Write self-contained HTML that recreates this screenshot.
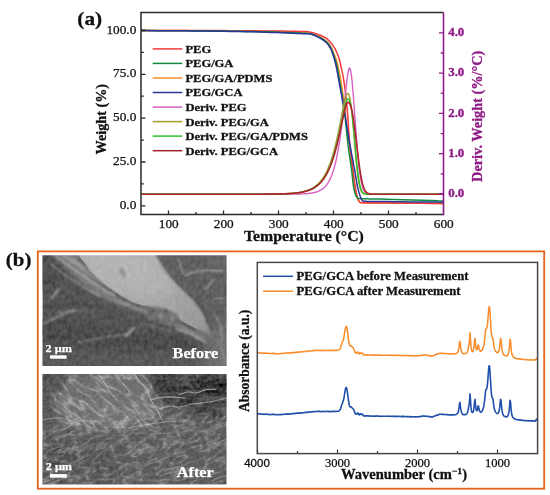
<!DOCTYPE html>
<html><head><meta charset="utf-8"><style>
html,body{margin:0;padding:0;background:#fff;overflow:hidden}
svg{display:block}
</style></head><body>
<svg width="550" height="495" viewBox="0 0 550 495">
<defs>
<clipPath id="clipA"><rect x="141.0" y="12.6" width="302.5" height="202.0"/></clipPath>
</defs>
<rect x="0" y="0" width="550" height="495" fill="#fff"/>
<g clip-path="url(#clipA)">
<path d="M141.0,30.5 L145.5,30.5 L151.6,30.5 L158.8,30.5 L166.8,30.6 L175.2,30.6 L183.8,30.6 L192.2,30.7 L200.0,30.7 L207.6,30.7 L215.4,30.8 L223.3,30.8 L231.2,30.9 L238.9,30.9 L246.4,31.0 L253.5,31.1 L260.0,31.2 L266.1,31.3 L272.1,31.5 L277.7,31.7 L283.0,31.9 L287.9,32.1 L292.4,32.2 L296.5,32.4 L300.0,32.6 L302.8,32.7 L305.0,32.8 L306.5,32.9 L307.7,32.9 L308.7,33.0 L309.6,33.2 L310.7,33.4 L312.0,33.8 L313.6,34.3 L315.2,34.9 L316.8,35.5 L318.5,36.3 L320.1,37.0 L321.6,37.8 L323.0,38.6 L324.2,39.4 L325.3,40.1 L326.2,40.8 L327.0,41.5 L327.7,42.2 L328.3,43.0 L329.0,43.8 L329.6,44.7 L330.3,45.8 L331.0,47.0 L331.7,48.4 L332.5,50.0 L333.2,51.5 L333.8,53.2 L334.5,54.8 L335.1,56.3 L335.6,57.7 L336.1,59.0 L336.5,60.2 L336.8,61.4 L337.1,62.5 L337.4,63.6 L337.7,64.8 L338.0,66.1 L338.3,67.4 L338.6,68.8 L338.9,70.2 L339.2,71.7 L339.5,73.2 L339.8,74.8 L340.1,76.5 L340.4,78.2 L340.7,80.0 L341.0,81.9 L341.3,83.9 L341.7,86.0 L342.0,88.2 L342.3,90.4 L342.7,92.6 L343.0,94.8 L343.3,97.0 L343.6,99.2 L343.9,101.4 L344.2,103.7 L344.4,106.0 L344.7,108.2 L345.0,110.5 L345.2,112.8 L345.5,115.0 L345.8,117.2 L346.0,119.4 L346.2,121.6 L346.5,123.8 L346.7,126.0 L347.0,128.1 L347.2,130.3 L347.5,132.5 L347.8,134.7 L348.1,136.8 L348.4,139.0 L348.8,141.1 L349.1,143.3 L349.4,145.4 L349.8,147.7 L350.1,150.0 L350.4,152.4 L350.7,154.9 L351.1,157.5 L351.4,160.2 L351.7,162.8 L352.0,165.3 L352.3,167.7 L352.6,170.0 L352.9,172.1 L353.2,174.2 L353.4,176.2 L353.7,178.1 L353.9,180.0 L354.2,181.7 L354.4,183.4 L354.7,185.0 L354.9,186.5 L355.2,187.9 L355.4,189.3 L355.6,190.5 L355.9,191.7 L356.1,192.9 L356.3,194.0 L356.6,195.0 L356.9,196.0 L357.1,197.0 L357.4,197.9 L357.7,198.7 L358.0,199.5 L358.3,200.2 L358.6,200.8 L359.0,201.3 L359.3,201.7 L359.6,202.0 L359.8,202.2 L360.1,202.3 L360.5,202.4 L361.0,202.5 L361.9,202.5 L363.0,202.6 L364.2,202.7 L365.3,202.7 L366.4,202.8 L367.8,202.8 L369.7,202.8 L372.2,202.8 L375.6,202.9 L380.0,202.9 L386.1,203.0 L394.0,203.0 L403.0,203.1 L412.6,203.2 L422.0,203.2 L430.6,203.3 L437.8,203.4 L443.0,203.4" fill="none" stroke="#fb8f2e" stroke-width="1.5" stroke-linejoin="round" stroke-linecap="round"/>
<path d="M141.0,30.4 L145.5,30.4 L151.6,30.4 L158.8,30.4 L166.8,30.4 L175.2,30.4 L183.8,30.5 L192.2,30.5 L200.0,30.5 L207.6,30.5 L215.4,30.6 L223.3,30.6 L231.2,30.7 L238.9,30.7 L246.4,30.8 L253.5,30.8 L260.0,30.9 L266.1,31.0 L272.1,31.0 L277.7,31.1 L283.0,31.1 L287.9,31.2 L292.4,31.2 L296.5,31.3 L300.0,31.4 L302.8,31.5 L305.0,31.6 L306.6,31.6 L307.8,31.7 L308.8,31.8 L309.7,32.0 L310.8,32.2 L312.1,32.5 L313.7,32.9 L315.3,33.4 L316.9,34.0 L318.5,34.6 L320.1,35.2 L321.6,35.8 L323.0,36.5 L324.2,37.1 L325.3,37.7 L326.2,38.2 L327.0,38.8 L327.7,39.4 L328.4,40.0 L329.0,40.6 L329.6,41.3 L330.3,42.0 L331.0,42.8 L331.6,43.6 L332.3,44.5 L332.9,45.4 L333.5,46.3 L334.1,47.3 L334.7,48.2 L335.2,49.2 L335.7,50.2 L336.2,51.2 L336.7,52.2 L337.2,53.3 L337.6,54.4 L338.0,55.5 L338.4,56.6 L338.8,57.7 L339.2,58.8 L339.5,60.0 L339.8,61.1 L340.1,62.3 L340.3,63.5 L340.6,64.7 L340.9,66.0 L341.2,67.4 L341.5,68.8 L341.8,70.2 L342.1,71.7 L342.5,73.2 L342.8,74.8 L343.1,76.5 L343.4,78.2 L343.7,80.0 L344.0,81.9 L344.3,83.9 L344.6,86.0 L344.9,88.2 L345.2,90.4 L345.5,92.6 L345.7,94.8 L346.0,97.0 L346.2,99.2 L346.5,101.4 L346.7,103.7 L346.9,106.0 L347.1,108.2 L347.3,110.5 L347.5,112.8 L347.7,115.0 L347.9,117.2 L348.0,119.4 L348.1,121.6 L348.3,123.8 L348.4,126.0 L348.5,128.1 L348.6,130.3 L348.8,132.5 L349.0,134.7 L349.1,136.8 L349.3,139.0 L349.5,141.1 L349.7,143.3 L349.9,145.4 L350.2,147.7 L350.4,150.0 L350.7,152.4 L351.0,154.9 L351.3,157.5 L351.6,160.2 L352.0,162.8 L352.3,165.3 L352.6,167.7 L352.9,170.0 L353.2,172.1 L353.5,174.2 L353.7,176.2 L354.0,178.1 L354.2,179.9 L354.5,181.6 L354.7,183.4 L355.0,185.0 L355.3,186.6 L355.5,188.2 L355.7,189.7 L356.0,191.1 L356.2,192.4 L356.5,193.7 L356.7,194.9 L357.0,196.0 L357.3,197.0 L357.6,197.9 L357.9,198.7 L358.2,199.4 L358.5,200.1 L358.8,200.6 L359.1,201.1 L359.5,201.6 L359.8,202.0 L360.0,202.2 L360.1,202.4 L360.3,202.5 L360.7,202.6 L361.2,202.7 L361.9,202.7 L363.0,202.8 L364.2,202.9 L365.2,202.9 L366.4,202.9 L367.8,202.9 L369.7,202.9 L372.2,203.0 L375.6,203.0 L380.0,203.0 L386.1,203.1 L394.0,203.1 L403.0,203.2 L412.6,203.3 L422.0,203.3 L430.6,203.4 L437.8,203.5 L443.0,203.5" fill="none" stroke="#f23a3a" stroke-width="1.5" stroke-linejoin="round" stroke-linecap="round"/>
<path d="M141.0,30.6 L145.5,30.6 L151.6,30.6 L158.8,30.7 L166.8,30.7 L175.2,30.7 L183.8,30.8 L192.2,30.8 L200.0,30.9 L207.6,31.0 L215.4,31.1 L223.3,31.1 L231.2,31.2 L238.9,31.3 L246.4,31.4 L253.5,31.6 L260.0,31.7 L266.1,31.8 L272.1,32.0 L277.7,32.2 L283.0,32.4 L287.9,32.6 L292.4,32.8 L296.5,32.9 L300.0,33.1 L302.8,33.2 L305.0,33.3 L306.5,33.3 L307.7,33.4 L308.7,33.4 L309.6,33.6 L310.7,33.8 L312.0,34.2 L313.6,34.7 L315.2,35.3 L316.8,36.1 L318.5,36.8 L320.1,37.7 L321.6,38.5 L323.0,39.4 L324.2,40.2 L325.3,41.0 L326.2,41.8 L327.0,42.5 L327.7,43.3 L328.4,44.1 L329.0,45.0 L329.7,46.0 L330.3,47.0 L330.9,48.2 L331.5,49.4 L332.1,50.8 L332.7,52.2 L333.2,53.6 L333.7,55.0 L334.2,56.4 L334.6,57.7 L335.0,58.9 L335.4,60.1 L335.7,61.3 L336.0,62.4 L336.3,63.6 L336.6,64.8 L336.9,66.1 L337.2,67.4 L337.5,68.8 L337.8,70.2 L338.1,71.7 L338.3,73.2 L338.6,74.8 L338.9,76.5 L339.2,78.2 L339.5,80.0 L339.8,81.9 L340.2,83.9 L340.5,86.0 L340.9,88.2 L341.2,90.4 L341.6,92.6 L342.0,94.8 L342.3,97.0 L342.6,99.2 L343.0,101.4 L343.3,103.7 L343.7,106.0 L344.0,108.2 L344.3,110.5 L344.6,112.8 L344.9,115.0 L345.2,117.2 L345.4,119.4 L345.6,121.6 L345.8,123.8 L346.0,126.0 L346.3,128.1 L346.5,130.3 L346.7,132.5 L346.9,134.7 L347.2,136.8 L347.4,139.0 L347.6,141.1 L347.9,143.3 L348.1,145.4 L348.4,147.7 L348.7,150.0 L349.0,152.4 L349.4,154.9 L349.8,157.5 L350.2,160.2 L350.6,162.8 L350.9,165.3 L351.3,167.7 L351.6,170.0 L351.9,172.2 L352.1,174.2 L352.3,176.3 L352.5,178.2 L352.7,180.0 L352.9,181.8 L353.1,183.4 L353.3,185.0 L353.5,186.4 L353.8,187.8 L354.0,189.0 L354.3,190.2 L354.5,191.2 L354.8,192.2 L355.0,193.2 L355.3,194.0 L355.6,194.8 L355.8,195.5 L356.1,196.1 L356.4,196.6 L356.6,197.0 L357.0,197.4 L357.3,197.8 L357.7,198.1 L358.1,198.3 L358.3,198.5 L358.6,198.6 L358.9,198.6 L359.3,198.6 L359.9,198.6 L360.8,198.7 L362.0,198.7 L363.3,198.8 L364.5,198.8 L365.8,198.8 L367.3,198.8 L369.4,198.9 L372.0,198.9 L375.5,199.0 L380.0,199.1 L386.2,199.3 L394.1,199.5 L403.1,199.8 L412.6,200.0 L422.0,200.3 L430.6,200.5 L437.8,200.8 L443.0,200.9" fill="none" stroke="#0f8c3e" stroke-width="1.5" stroke-linejoin="round" stroke-linecap="round"/>
<path d="M141.0,30.6 L145.5,30.6 L151.6,30.7 L158.8,30.7 L166.8,30.7 L175.2,30.8 L183.8,30.8 L192.2,30.9 L200.0,31.0 L207.6,31.1 L215.4,31.2 L223.3,31.3 L231.2,31.4 L238.9,31.6 L246.4,31.7 L253.5,31.8 L260.0,32.0 L266.1,32.2 L272.1,32.4 L277.7,32.6 L283.0,32.8 L287.9,33.0 L292.4,33.2 L296.5,33.4 L300.0,33.6 L302.8,33.7 L305.0,33.7 L306.6,33.8 L307.8,33.8 L308.8,33.8 L309.7,33.9 L310.8,34.1 L312.1,34.5 L313.7,35.0 L315.3,35.7 L316.9,36.4 L318.5,37.3 L320.1,38.1 L321.6,39.0 L323.0,39.9 L324.2,40.8 L325.3,41.6 L326.2,42.5 L327.0,43.3 L327.8,44.2 L328.5,45.1 L329.1,46.0 L329.7,47.0 L330.3,48.0 L330.9,49.1 L331.4,50.2 L331.9,51.5 L332.3,52.7 L332.7,54.0 L333.1,55.2 L333.5,56.5 L333.9,57.7 L334.3,58.9 L334.6,60.1 L334.9,61.2 L335.2,62.4 L335.5,63.6 L335.8,64.8 L336.1,66.0 L336.4,67.4 L336.7,68.8 L337.0,70.2 L337.2,71.7 L337.5,73.2 L337.8,74.8 L338.1,76.5 L338.4,78.2 L338.7,80.0 L339.1,81.9 L339.4,83.9 L339.8,86.0 L340.2,88.2 L340.7,90.4 L341.1,92.6 L341.5,94.8 L341.9,97.0 L342.3,99.2 L342.7,101.4 L343.1,103.7 L343.5,106.0 L343.9,108.2 L344.2,110.5 L344.6,112.8 L345.0,115.0 L345.4,117.2 L345.7,119.4 L346.1,121.6 L346.4,123.8 L346.7,126.0 L347.1,128.1 L347.4,130.3 L347.8,132.5 L348.2,134.7 L348.5,136.8 L348.9,139.0 L349.3,141.1 L349.7,143.3 L350.1,145.4 L350.5,147.7 L350.9,150.0 L351.3,152.4 L351.8,154.9 L352.3,157.5 L352.8,160.2 L353.3,162.8 L353.7,165.3 L354.2,167.7 L354.6,170.0 L355.0,172.1 L355.3,174.2 L355.7,176.2 L356.0,178.1 L356.3,180.0 L356.6,181.7 L356.9,183.4 L357.2,185.0 L357.5,186.5 L357.9,188.0 L358.2,189.3 L358.5,190.6 L358.8,191.8 L359.2,192.9 L359.5,194.0 L359.8,195.0 L360.1,195.9 L360.4,196.8 L360.7,197.5 L361.0,198.2 L361.3,198.8 L361.6,199.4 L361.9,199.9 L362.3,200.3 L362.6,200.6 L362.9,200.9 L363.1,201.0 L363.4,201.1 L363.8,201.2 L364.3,201.2 L365.0,201.2 L366.0,201.3 L366.9,201.4 L367.6,201.4 L368.3,201.4 L369.3,201.4 L370.7,201.4 L372.8,201.4 L375.8,201.5 L380.0,201.5 L386.0,201.6 L393.8,201.7 L402.8,201.8 L412.4,201.9 L421.8,202.0 L430.5,202.1 L437.8,202.1 L443.0,202.2" fill="none" stroke="#28379a" stroke-width="1.5" stroke-linejoin="round" stroke-linecap="round"/>
<path d="M141.0,194.2 L145.0,194.2 L149.0,194.2 L153.0,194.2 L157.0,194.2 L161.0,194.2 L165.0,194.2 L169.0,194.2 L173.0,194.2 L177.0,194.2 L181.0,194.2 L185.0,194.2 L189.0,194.2 L193.0,194.2 L197.0,194.2 L201.0,194.2 L205.0,194.2 L209.0,194.2 L213.0,194.2 L217.0,194.2 L221.0,194.2 L225.0,194.2 L229.0,194.2 L233.0,194.2 L237.0,194.2 L241.0,194.2 L245.0,194.2 L249.0,194.2 L253.0,194.2 L257.0,194.2 L261.0,194.2 L265.0,194.2 L269.0,194.2 L273.0,194.2 L277.0,194.2 L281.0,194.2 L285.0,194.2 L289.0,194.2 L290.0,194.2 L290.5,194.1 L291.0,194.1 L291.5,194.1 L292.0,194.1 L292.5,194.1 L293.0,194.1 L293.5,194.1 L294.0,194.1 L294.5,194.1 L295.0,194.1 L295.5,194.1 L296.0,194.1 L296.5,194.1 L297.0,194.1 L297.5,194.1 L298.0,194.0 L298.5,194.0 L299.0,194.0 L299.5,194.0 L300.0,194.0 L300.5,194.0 L301.0,194.0 L301.5,193.9 L302.0,193.9 L302.5,193.9 L303.0,193.9 L303.5,193.9 L304.0,193.8 L304.5,193.8 L305.0,193.8 L305.5,193.7 L306.0,193.7 L306.5,193.7 L307.0,193.6 L307.5,193.6 L308.0,193.5 L308.5,193.5 L309.0,193.4 L309.5,193.4 L310.0,193.3 L310.5,193.2 L311.0,193.2 L311.5,193.1 L312.0,193.0 L312.5,192.9 L313.0,192.8 L313.5,192.7 L314.0,192.6 L314.5,192.5 L315.0,192.4 L315.5,192.2 L316.0,192.1 L316.5,191.9 L317.0,191.8 L317.5,191.6 L318.0,191.4 L318.5,191.2 L319.0,191.0 L319.5,190.7 L320.0,190.5 L320.5,190.2 L321.0,189.9 L321.5,189.6 L322.0,189.3 L322.5,188.9 L323.0,188.5 L323.5,188.1 L324.0,187.7 L324.5,187.2 L325.0,186.7 L325.5,186.2 L326.0,185.6 L326.5,185.0 L327.0,184.3 L327.5,183.6 L328.0,182.8 L328.5,182.0 L329.0,181.1 L329.5,180.2 L330.0,179.2 L330.5,178.1 L331.0,177.0 L331.5,175.8 L332.0,174.5 L332.5,173.1 L333.0,171.7 L333.5,170.1 L334.0,168.4 L334.5,166.7 L335.0,164.8 L335.5,162.8 L336.0,160.6 L336.5,158.4 L337.0,156.0 L337.5,153.5 L338.0,150.8 L338.5,147.9 L339.0,145.0 L339.5,141.8 L340.0,138.5 L340.5,135.0 L341.0,131.4 L341.5,127.6 L342.0,123.7 L342.5,119.6 L343.0,115.3 L343.5,111.0 L344.0,106.5 L344.5,102.0 L345.0,97.4 L345.5,92.8 L346.0,88.4 L346.5,84.0 L347.0,79.9 L347.5,76.2 L348.0,72.9 L348.5,70.3 L349.0,68.5 L349.5,67.9 L350.0,68.4 L350.5,70.0 L351.0,72.6 L351.5,76.1 L352.0,80.5 L352.5,85.7 L353.0,91.5 L353.5,97.8 L354.0,104.4 L354.5,111.4 L355.0,118.4 L355.5,125.4 L356.0,132.3 L356.5,138.9 L357.0,145.3 L357.5,151.3 L358.0,156.9 L358.5,162.0 L359.0,166.6 L359.5,170.8 L360.0,174.5 L360.5,177.8 L361.0,180.6 L361.5,183.1 L362.0,185.1 L362.5,186.9 L363.0,188.4 L363.5,189.6 L364.0,190.6 L364.5,191.4 L365.0,192.0 L365.5,192.5 L366.0,192.9 L366.5,193.2 L367.0,193.5 L367.5,193.7 L368.0,193.8 L368.5,193.9 L369.0,194.0 L369.5,194.1 L370.0,194.1 L370.5,194.1 L371.0,194.1 L371.5,194.2 L372.0,194.2 L372.5,194.2 L373.0,194.2 L373.5,194.2 L374.0,194.2 L374.5,194.2 L375.0,194.2 L375.5,194.2 L376.0,194.2 L376.5,194.2 L377.0,194.2 L377.5,194.2 L378.0,194.2 L378.5,194.2 L379.0,194.2 L379.5,194.2 L380.0,194.2 L384.0,194.2 L388.0,194.2 L392.0,194.2 L396.0,194.2 L400.0,194.2 L404.0,194.2 L408.0,194.2 L412.0,194.2 L416.0,194.2 L420.0,194.2 L424.0,194.2 L428.0,194.2 L432.0,194.2 L436.0,194.2 L440.0,194.2 L443.5,194.2" fill="none" stroke="#d860c4" stroke-width="1.4" stroke-linejoin="round" stroke-linecap="round"/>
<path d="M141.0,194.2 L145.0,194.2 L149.0,194.2 L153.0,194.2 L157.0,194.2 L161.0,194.2 L165.0,194.2 L169.0,194.2 L173.0,194.2 L177.0,194.2 L181.0,194.2 L185.0,194.2 L189.0,194.2 L193.0,194.2 L197.0,194.2 L201.0,194.2 L205.0,194.2 L209.0,194.2 L213.0,194.2 L217.0,194.2 L221.0,194.2 L225.0,194.2 L229.0,194.2 L233.0,194.2 L237.0,194.2 L241.0,194.2 L245.0,194.2 L249.0,194.2 L253.0,194.2 L257.0,194.2 L261.0,194.2 L265.0,194.1 L269.0,194.1 L273.0,194.1 L277.0,194.0 L281.0,193.9 L285.0,193.7 L289.0,193.5 L290.0,193.5 L290.5,193.4 L291.0,193.4 L291.5,193.4 L292.0,193.3 L292.5,193.3 L293.0,193.2 L293.5,193.2 L294.0,193.1 L294.5,193.1 L295.0,193.0 L295.5,193.0 L296.0,192.9 L296.5,192.8 L297.0,192.8 L297.5,192.7 L298.0,192.6 L298.5,192.6 L299.0,192.5 L299.5,192.4 L300.0,192.3 L300.5,192.2 L301.0,192.1 L301.5,192.0 L302.0,191.9 L302.5,191.8 L303.0,191.7 L303.5,191.6 L304.0,191.4 L304.5,191.3 L305.0,191.2 L305.5,191.0 L306.0,190.9 L306.5,190.7 L307.0,190.5 L307.5,190.3 L308.0,190.2 L308.5,190.0 L309.0,189.8 L309.5,189.5 L310.0,189.3 L310.5,189.1 L311.0,188.8 L311.5,188.6 L312.0,188.3 L312.5,188.0 L313.0,187.7 L313.5,187.4 L314.0,187.1 L314.5,186.8 L315.0,186.4 L315.5,186.0 L316.0,185.7 L316.5,185.2 L317.0,184.8 L317.5,184.4 L318.0,183.9 L318.5,183.4 L319.0,182.9 L319.5,182.4 L320.0,181.8 L320.5,181.2 L321.0,180.6 L321.5,180.0 L322.0,179.3 L322.5,178.6 L323.0,177.9 L323.5,177.1 L324.0,176.3 L324.5,175.5 L325.0,174.6 L325.5,173.7 L326.0,172.8 L326.5,171.8 L327.0,170.7 L327.5,169.7 L328.0,168.5 L328.5,167.4 L329.0,166.1 L329.5,164.9 L330.0,163.6 L330.5,162.2 L331.0,160.7 L331.5,159.2 L332.0,157.7 L332.5,156.1 L333.0,154.4 L333.5,152.7 L334.0,150.9 L334.5,149.0 L335.0,147.0 L335.5,145.0 L336.0,143.0 L336.5,140.8 L337.0,138.6 L337.5,136.4 L338.0,134.0 L338.5,131.6 L339.0,129.2 L339.5,126.7 L340.0,124.2 L340.5,121.6 L341.0,119.0 L341.5,116.3 L342.0,113.7 L342.5,111.1 L343.0,108.5 L343.5,106.0 L344.0,103.6 L344.5,101.3 L345.0,99.2 L345.5,97.3 L346.0,95.7 L346.5,94.5 L347.0,93.7 L347.5,93.5 L348.0,93.6 L348.5,94.1 L349.0,95.1 L349.5,96.6 L350.0,98.7 L350.5,101.5 L351.0,104.9 L351.5,108.9 L352.0,113.5 L352.5,118.6 L353.0,124.1 L353.5,130.0 L354.0,135.9 L354.5,142.0 L355.0,148.0 L355.5,153.8 L356.0,159.3 L356.5,164.5 L357.0,169.3 L357.5,173.6 L358.0,177.4 L358.5,180.7 L359.0,183.5 L359.5,185.9 L360.0,187.8 L360.5,189.4 L361.0,190.6 L361.5,191.6 L362.0,192.3 L362.5,192.9 L363.0,193.3 L363.5,193.6 L364.0,193.8 L364.5,193.9 L365.0,194.0 L365.5,194.1 L366.0,194.1 L366.5,194.2 L367.0,194.2 L367.5,194.2 L368.0,194.2 L368.5,194.2 L369.0,194.2 L369.5,194.2 L370.0,194.2 L370.5,194.2 L371.0,194.2 L371.5,194.2 L372.0,194.2 L372.5,194.2 L373.0,194.2 L373.5,194.2 L374.0,194.2 L374.5,194.2 L375.0,194.2 L375.5,194.2 L376.0,194.2 L376.5,194.2 L377.0,194.2 L377.5,194.2 L378.0,194.2 L378.5,194.2 L379.0,194.2 L379.5,194.2 L380.0,194.2 L384.0,194.2 L388.0,194.2 L392.0,194.2 L396.0,194.2 L400.0,194.2 L404.0,194.2 L408.0,194.2 L412.0,194.2 L416.0,194.2 L420.0,194.2 L424.0,194.2 L428.0,194.2 L432.0,194.2 L436.0,194.2 L440.0,194.2 L443.5,194.2" fill="none" stroke="#a29d2e" stroke-width="1.4" stroke-linejoin="round" stroke-linecap="round"/>
<path d="M141.0,194.2 L145.0,194.2 L149.0,194.2 L153.0,194.2 L157.0,194.2 L161.0,194.2 L165.0,194.2 L169.0,194.2 L173.0,194.2 L177.0,194.2 L181.0,194.2 L185.0,194.2 L189.0,194.2 L193.0,194.2 L197.0,194.2 L201.0,194.2 L205.0,194.2 L209.0,194.2 L213.0,194.2 L217.0,194.2 L221.0,194.2 L225.0,194.2 L229.0,194.2 L233.0,194.2 L237.0,194.2 L241.0,194.2 L245.0,194.2 L249.0,194.2 L253.0,194.2 L257.0,194.2 L261.0,194.2 L265.0,194.1 L269.0,194.1 L273.0,194.1 L277.0,194.0 L281.0,193.9 L285.0,193.8 L289.0,193.6 L290.0,193.5 L290.5,193.5 L291.0,193.5 L291.5,193.4 L292.0,193.4 L292.5,193.4 L293.0,193.3 L293.5,193.3 L294.0,193.2 L294.5,193.2 L295.0,193.1 L295.5,193.1 L296.0,193.0 L296.5,193.0 L297.0,192.9 L297.5,192.8 L298.0,192.8 L298.5,192.7 L299.0,192.6 L299.5,192.6 L300.0,192.5 L300.5,192.4 L301.0,192.3 L301.5,192.2 L302.0,192.1 L302.5,192.0 L303.0,191.9 L303.5,191.8 L304.0,191.7 L304.5,191.6 L305.0,191.4 L305.5,191.3 L306.0,191.2 L306.5,191.0 L307.0,190.9 L307.5,190.7 L308.0,190.5 L308.5,190.3 L309.0,190.2 L309.5,190.0 L310.0,189.8 L310.5,189.5 L311.0,189.3 L311.5,189.1 L312.0,188.8 L312.5,188.6 L313.0,188.3 L313.5,188.0 L314.0,187.7 L314.5,187.4 L315.0,187.1 L315.5,186.8 L316.0,186.4 L316.5,186.0 L317.0,185.6 L317.5,185.2 L318.0,184.8 L318.5,184.4 L319.0,183.9 L319.5,183.4 L320.0,182.9 L320.5,182.4 L321.0,181.8 L321.5,181.2 L322.0,180.6 L322.5,180.0 L323.0,179.3 L323.5,178.6 L324.0,177.9 L324.5,177.1 L325.0,176.3 L325.5,175.5 L326.0,174.6 L326.5,173.7 L327.0,172.8 L327.5,171.8 L328.0,170.8 L328.5,169.7 L329.0,168.6 L329.5,167.4 L330.0,166.2 L330.5,164.9 L331.0,163.6 L331.5,162.3 L332.0,160.8 L332.5,159.3 L333.0,157.8 L333.5,156.2 L334.0,154.5 L334.5,152.8 L335.0,151.0 L335.5,149.2 L336.0,147.3 L336.5,145.3 L337.0,143.3 L337.5,141.2 L338.0,139.0 L338.5,136.8 L339.0,134.5 L339.5,132.2 L340.0,129.8 L340.5,127.4 L341.0,125.0 L341.5,122.5 L342.0,120.0 L342.5,117.5 L343.0,115.1 L343.5,112.7 L344.0,110.3 L344.5,108.0 L345.0,105.9 L345.5,103.9 L346.0,102.2 L346.5,100.7 L347.0,99.6 L347.5,99.0 L348.0,98.9 L348.5,99.1 L349.0,99.6 L349.5,100.5 L350.0,102.0 L350.5,104.0 L351.0,106.6 L351.5,109.8 L352.0,113.5 L352.5,117.8 L353.0,122.5 L353.5,127.6 L354.0,132.9 L354.5,138.4 L355.0,144.0 L355.5,149.6 L356.0,155.0 L356.5,160.2 L357.0,165.0 L357.5,169.5 L358.0,173.6 L358.5,177.2 L359.0,180.4 L359.5,183.2 L360.0,185.5 L360.5,187.5 L361.0,189.1 L361.5,190.3 L362.0,191.3 L362.5,192.1 L363.0,192.7 L363.5,193.1 L364.0,193.5 L364.5,193.7 L365.0,193.9 L365.5,194.0 L366.0,194.1 L366.5,194.1 L367.0,194.1 L367.5,194.2 L368.0,194.2 L368.5,194.2 L369.0,194.2 L369.5,194.2 L370.0,194.2 L370.5,194.2 L371.0,194.2 L371.5,194.2 L372.0,194.2 L372.5,194.2 L373.0,194.2 L373.5,194.2 L374.0,194.2 L374.5,194.2 L375.0,194.2 L375.5,194.2 L376.0,194.2 L376.5,194.2 L377.0,194.2 L377.5,194.2 L378.0,194.2 L378.5,194.2 L379.0,194.2 L379.5,194.2 L380.0,194.2 L384.0,194.2 L388.0,194.2 L392.0,194.2 L396.0,194.2 L400.0,194.2 L404.0,194.2 L408.0,194.2 L412.0,194.2 L416.0,194.2 L420.0,194.2 L424.0,194.2 L428.0,194.2 L432.0,194.2 L436.0,194.2 L440.0,194.2 L443.5,194.2" fill="none" stroke="#2cc12c" stroke-width="1.4" stroke-linejoin="round" stroke-linecap="round"/>
<path d="M141.0,194.2 L145.0,194.2 L149.0,194.2 L153.0,194.2 L157.0,194.2 L161.0,194.2 L165.0,194.2 L169.0,194.2 L173.0,194.2 L177.0,194.2 L181.0,194.2 L185.0,194.2 L189.0,194.2 L193.0,194.2 L197.0,194.2 L201.0,194.2 L205.0,194.2 L209.0,194.2 L213.0,194.2 L217.0,194.2 L221.0,194.2 L225.0,194.2 L229.0,194.2 L233.0,194.2 L237.0,194.2 L241.0,194.2 L245.0,194.2 L249.0,194.2 L253.0,194.2 L257.0,194.2 L261.0,194.2 L265.0,194.1 L269.0,194.1 L273.0,194.1 L277.0,194.0 L281.0,193.9 L285.0,193.8 L289.0,193.6 L290.0,193.6 L290.5,193.5 L291.0,193.5 L291.5,193.5 L292.0,193.4 L292.5,193.4 L293.0,193.3 L293.5,193.3 L294.0,193.2 L294.5,193.2 L295.0,193.2 L295.5,193.1 L296.0,193.1 L296.5,193.0 L297.0,192.9 L297.5,192.9 L298.0,192.8 L298.5,192.7 L299.0,192.7 L299.5,192.6 L300.0,192.5 L300.5,192.4 L301.0,192.4 L301.5,192.3 L302.0,192.2 L302.5,192.1 L303.0,192.0 L303.5,191.9 L304.0,191.7 L304.5,191.6 L305.0,191.5 L305.5,191.4 L306.0,191.2 L306.5,191.1 L307.0,190.9 L307.5,190.8 L308.0,190.6 L308.5,190.4 L309.0,190.3 L309.5,190.1 L310.0,189.9 L310.5,189.7 L311.0,189.5 L311.5,189.2 L312.0,189.0 L312.5,188.7 L313.0,188.5 L313.5,188.2 L314.0,187.9 L314.5,187.6 L315.0,187.3 L315.5,187.0 L316.0,186.6 L316.5,186.3 L317.0,185.9 L317.5,185.5 L318.0,185.1 L318.5,184.6 L319.0,184.2 L319.5,183.7 L320.0,183.2 L320.5,182.7 L321.0,182.2 L321.5,181.6 L322.0,181.0 L322.5,180.4 L323.0,179.7 L323.5,179.1 L324.0,178.3 L324.5,177.6 L325.0,176.8 L325.5,176.0 L326.0,175.2 L326.5,174.3 L327.0,173.4 L327.5,172.4 L328.0,171.4 L328.5,170.4 L329.0,169.3 L329.5,168.2 L330.0,167.0 L330.5,165.8 L331.0,164.5 L331.5,163.2 L332.0,161.8 L332.5,160.3 L333.0,158.8 L333.5,157.3 L334.0,155.7 L334.5,154.0 L335.0,152.3 L335.5,150.5 L336.0,148.6 L336.5,146.7 L337.0,144.8 L337.5,142.7 L338.0,140.6 L338.5,138.5 L339.0,136.3 L339.5,134.0 L340.0,131.7 L340.5,129.4 L341.0,127.1 L341.5,124.7 L342.0,122.3 L342.5,119.9 L343.0,117.5 L343.5,115.2 L344.0,112.9 L344.5,110.8 L345.0,108.7 L345.5,106.9 L346.0,105.2 L346.5,103.9 L347.0,103.0 L347.5,102.4 L348.0,102.4 L348.5,102.5 L349.0,102.8 L349.5,103.4 L350.0,104.3 L350.5,105.4 L351.0,106.9 L351.5,108.8 L352.0,110.9 L352.5,113.5 L353.0,116.4 L353.5,119.5 L354.0,123.0 L354.5,126.7 L355.0,130.6 L355.5,134.7 L356.0,138.9 L356.5,143.1 L357.0,147.3 L357.5,151.5 L358.0,155.7 L358.5,159.7 L359.0,163.5 L359.5,167.1 L360.0,170.5 L360.5,173.6 L361.0,176.5 L361.5,179.1 L362.0,181.4 L362.5,183.5 L363.0,185.3 L363.5,186.9 L364.0,188.2 L364.5,189.4 L365.0,190.4 L365.5,191.2 L366.0,191.8 L366.5,192.4 L367.0,192.8 L367.5,193.1 L368.0,193.4 L368.5,193.6 L369.0,193.8 L369.5,193.9 L370.0,194.0 L370.5,194.0 L371.0,194.1 L371.5,194.1 L372.0,194.1 L372.5,194.2 L373.0,194.2 L373.5,194.2 L374.0,194.2 L374.5,194.2 L375.0,194.2 L375.5,194.2 L376.0,194.2 L376.5,194.2 L377.0,194.2 L377.5,194.2 L378.0,194.2 L378.5,194.2 L379.0,194.2 L379.5,194.2 L380.0,194.2 L384.0,194.2 L388.0,194.2 L392.0,194.2 L396.0,194.2 L400.0,194.2 L404.0,194.2 L408.0,194.2 L412.0,194.2 L416.0,194.2 L420.0,194.2 L424.0,194.2 L428.0,194.2 L432.0,194.2 L436.0,194.2 L440.0,194.2 L443.5,194.2" fill="none" stroke="#b0222e" stroke-width="1.6" stroke-linejoin="round" stroke-linecap="round"/>
</g>
<path d="M443.5,12.6 L141.0,12.6 L141.0,214.6 L443.5,214.6" fill="none" stroke="#2a2a2a" stroke-width="1.5"/>
<line x1="443.5" y1="12.6" x2="443.5" y2="215.29999999999998" stroke="#8e1a86" stroke-width="1.6"/>
<path d="M141.0,205.8 h4.5 M141.0,183.9 h2.8 M141.0,162.0 h4.5 M141.0,140.1 h2.8 M141.0,118.2 h4.5 M141.0,96.2 h2.8 M141.0,74.3 h4.5 M141.0,52.4 h2.8 M141.0,30.5 h4.5" stroke="#2a2a2a" stroke-width="1.3"/>
<path d="M168.5,214.6 v-4.2 M196.0,214.6 v-2.6 M223.5,214.6 v-4.2 M251.0,214.6 v-2.6 M278.5,214.6 v-4.2 M306.0,214.6 v-2.6 M333.5,214.6 v-4.2 M361.0,214.6 v-2.6 M388.5,214.6 v-4.2 M416.0,214.6 v-2.6" stroke="#2a2a2a" stroke-width="1.3"/>
<path d="M443.5,194.0 h-4.5 M443.5,173.8 h-2.8 M443.5,153.7 h-4.5 M443.5,133.6 h-2.8 M443.5,113.4 h-4.5 M443.5,93.2 h-2.8 M443.5,73.1 h-4.5 M443.5,53.0 h-2.8 M443.5,32.8 h-4.5" stroke="#8e1a86" stroke-width="1.3"/>
<text x="136.3" y="33.6" font-size="11.5" font-weight="normal" fill="#111" font-family="'Liberation Serif','Times New Roman',serif" text-anchor="end" textLength="29.9" lengthAdjust="spacingAndGlyphs" stroke="#111" stroke-width="0.25">100.0</text>
<text x="136.3" y="77.4" font-size="11.5" font-weight="normal" fill="#111" font-family="'Liberation Serif','Times New Roman',serif" text-anchor="end" textLength="23.2" lengthAdjust="spacingAndGlyphs" stroke="#111" stroke-width="0.25">75.0</text>
<text x="136.3" y="121.3" font-size="11.5" font-weight="normal" fill="#111" font-family="'Liberation Serif','Times New Roman',serif" text-anchor="end" textLength="23.2" lengthAdjust="spacingAndGlyphs" stroke="#111" stroke-width="0.25">50.0</text>
<text x="136.3" y="165.1" font-size="11.5" font-weight="normal" fill="#111" font-family="'Liberation Serif','Times New Roman',serif" text-anchor="end" textLength="23.2" lengthAdjust="spacingAndGlyphs" stroke="#111" stroke-width="0.25">25.0</text>
<text x="136.3" y="208.9" font-size="11.5" font-weight="normal" fill="#111" font-family="'Liberation Serif','Times New Roman',serif" text-anchor="end" textLength="16.6" lengthAdjust="spacingAndGlyphs" stroke="#111" stroke-width="0.25">0.0</text>
<text x="448.2" y="197.1" font-size="11.5" font-weight="bold" fill="#8e1a86" font-family="'Liberation Serif','Times New Roman',serif" text-anchor="start" textLength="16.1" lengthAdjust="spacingAndGlyphs" stroke="#8e1a86" stroke-width="0.28">0.0</text>
<text x="448.2" y="156.8" font-size="11.5" font-weight="bold" fill="#8e1a86" font-family="'Liberation Serif','Times New Roman',serif" text-anchor="start" textLength="16.1" lengthAdjust="spacingAndGlyphs" stroke="#8e1a86" stroke-width="0.28">1.0</text>
<text x="448.2" y="116.5" font-size="11.5" font-weight="bold" fill="#8e1a86" font-family="'Liberation Serif','Times New Roman',serif" text-anchor="start" textLength="16.1" lengthAdjust="spacingAndGlyphs" stroke="#8e1a86" stroke-width="0.28">2.0</text>
<text x="448.2" y="76.2" font-size="11.5" font-weight="bold" fill="#8e1a86" font-family="'Liberation Serif','Times New Roman',serif" text-anchor="start" textLength="16.1" lengthAdjust="spacingAndGlyphs" stroke="#8e1a86" stroke-width="0.28">3.0</text>
<text x="448.2" y="35.9" font-size="11.5" font-weight="bold" fill="#8e1a86" font-family="'Liberation Serif','Times New Roman',serif" text-anchor="start" textLength="16.1" lengthAdjust="spacingAndGlyphs" stroke="#8e1a86" stroke-width="0.28">4.0</text>
<text x="168.8" y="228.3" font-size="11.5" font-weight="normal" fill="#111" font-family="'Liberation Serif','Times New Roman',serif" text-anchor="middle" textLength="19.9" lengthAdjust="spacingAndGlyphs" stroke="#111" stroke-width="0.25">100</text>
<text x="223.8" y="228.3" font-size="11.5" font-weight="normal" fill="#111" font-family="'Liberation Serif','Times New Roman',serif" text-anchor="middle" textLength="19.9" lengthAdjust="spacingAndGlyphs" stroke="#111" stroke-width="0.25">200</text>
<text x="278.8" y="228.3" font-size="11.5" font-weight="normal" fill="#111" font-family="'Liberation Serif','Times New Roman',serif" text-anchor="middle" textLength="19.9" lengthAdjust="spacingAndGlyphs" stroke="#111" stroke-width="0.25">300</text>
<text x="333.8" y="228.3" font-size="11.5" font-weight="normal" fill="#111" font-family="'Liberation Serif','Times New Roman',serif" text-anchor="middle" textLength="19.9" lengthAdjust="spacingAndGlyphs" stroke="#111" stroke-width="0.25">400</text>
<text x="388.8" y="228.3" font-size="11.5" font-weight="normal" fill="#111" font-family="'Liberation Serif','Times New Roman',serif" text-anchor="middle" textLength="19.9" lengthAdjust="spacingAndGlyphs" stroke="#111" stroke-width="0.25">500</text>
<text x="443.8" y="228.3" font-size="11.5" font-weight="normal" fill="#111" font-family="'Liberation Serif','Times New Roman',serif" text-anchor="middle" textLength="19.9" lengthAdjust="spacingAndGlyphs" stroke="#111" stroke-width="0.25">600</text>
<text x="244.0" y="241.2" font-size="13.7" font-weight="bold" fill="#111" font-family="'Liberation Serif','Times New Roman',serif" text-anchor="start" textLength="119.8" lengthAdjust="spacingAndGlyphs" stroke="#111" stroke-width="0.28">Temperature (°C)</text>
<g transform="translate(105.7,119.2) scale(1.08,1) rotate(-90)"><text x="0.0" y="0.0" font-size="14" font-weight="bold" fill="#111" font-family="'Liberation Serif','Times New Roman',serif" text-anchor="middle" textLength="70.4" lengthAdjust="spacingAndGlyphs" stroke="#111" stroke-width="0.28">Weight (%)</text></g>
<g transform="translate(482.2,116.3) scale(1.08,1) rotate(-90)"><text x="0.0" y="0.0" font-size="13.9" font-weight="bold" fill="#8e1a86" font-family="'Liberation Serif','Times New Roman',serif" text-anchor="middle" textLength="131.3" lengthAdjust="spacingAndGlyphs" stroke="#8e1a86" stroke-width="0.28">Deriv. Weight (%/°C)</text></g>
<text x="77.3" y="24.6" font-size="19.5" font-weight="bold" fill="#111" font-family="'Liberation Serif','Times New Roman',serif" text-anchor="start" textLength="24.8" lengthAdjust="spacingAndGlyphs" stroke="#111" stroke-width="0.28">(a)</text>
<line x1="152.7" y1="48.9" x2="182.3" y2="48.9" stroke="#f23a3a" stroke-width="1.5"/>
<text x="185.4" y="52.9" font-size="11" font-weight="bold" fill="#111" font-family="'Liberation Serif','Times New Roman',serif" text-anchor="start" transform="translate(-25.96,0) scale(1.14,1)" stroke="#111" stroke-width="0.28">PEG</text>
<line x1="152.7" y1="63.4" x2="182.3" y2="63.4" stroke="#0f8c3e" stroke-width="1.5"/>
<text x="185.4" y="67.4" font-size="11" font-weight="bold" fill="#111" font-family="'Liberation Serif','Times New Roman',serif" text-anchor="start" transform="translate(-25.96,0) scale(1.14,1)" stroke="#111" stroke-width="0.28">PEG/GA</text>
<line x1="152.7" y1="78.0" x2="182.3" y2="78.0" stroke="#fb8f2e" stroke-width="1.5"/>
<text x="185.4" y="82.0" font-size="11" font-weight="bold" fill="#111" font-family="'Liberation Serif','Times New Roman',serif" text-anchor="start" transform="translate(-25.96,0) scale(1.14,1)" stroke="#111" stroke-width="0.28">PEG/GA/PDMS</text>
<line x1="152.7" y1="92.5" x2="182.3" y2="92.5" stroke="#28379a" stroke-width="1.5"/>
<text x="185.4" y="96.5" font-size="11" font-weight="bold" fill="#111" font-family="'Liberation Serif','Times New Roman',serif" text-anchor="start" transform="translate(-25.96,0) scale(1.14,1)" stroke="#111" stroke-width="0.28">PEG/GCA</text>
<line x1="152.7" y1="107.1" x2="182.3" y2="107.1" stroke="#d860c4" stroke-width="1.5"/>
<text x="185.4" y="111.1" font-size="11" font-weight="bold" fill="#111" font-family="'Liberation Serif','Times New Roman',serif" text-anchor="start" transform="translate(-25.96,0) scale(1.14,1)" stroke="#111" stroke-width="0.28">Deriv. PEG</text>
<line x1="152.7" y1="121.6" x2="182.3" y2="121.6" stroke="#a29d2e" stroke-width="1.5"/>
<text x="185.4" y="125.6" font-size="11" font-weight="bold" fill="#111" font-family="'Liberation Serif','Times New Roman',serif" text-anchor="start" transform="translate(-25.96,0) scale(1.14,1)" stroke="#111" stroke-width="0.28">Deriv. PEG/GA</text>
<line x1="152.7" y1="136.1" x2="182.3" y2="136.1" stroke="#2cc12c" stroke-width="1.5"/>
<text x="185.4" y="140.1" font-size="11" font-weight="bold" fill="#111" font-family="'Liberation Serif','Times New Roman',serif" text-anchor="start" transform="translate(-25.96,0) scale(1.14,1)" stroke="#111" stroke-width="0.28">Deriv. PEG/GA/PDMS</text>
<line x1="152.7" y1="150.7" x2="182.3" y2="150.7" stroke="#a3202c" stroke-width="1.5"/>
<text x="185.4" y="154.7" font-size="11" font-weight="bold" fill="#111" font-family="'Liberation Serif','Times New Roman',serif" text-anchor="start" transform="translate(-25.96,0) scale(1.14,1)" stroke="#111" stroke-width="0.28">Deriv. PEG/GCA</text>
<rect x="37.8" y="251.4" width="506.4" height="237.3" fill="none" stroke="#e6641c" stroke-width="1.8"/>
<text x="5.8" y="265.7" font-size="19.5" font-weight="bold" fill="#111" font-family="'Liberation Serif','Times New Roman',serif" text-anchor="start" textLength="25.6" lengthAdjust="spacingAndGlyphs" stroke="#111" stroke-width="0.28">(b)</text>
<path d="M257.5,353.1 L258.0,353.0 L258.5,352.9 L259.0,352.7 L259.5,352.9 L260.0,353.0 L260.5,353.0 L261.0,352.9 L261.5,353.1 L262.0,353.2 L262.5,353.1 L263.0,353.2 L263.5,353.2 L264.0,353.4 L264.5,353.2 L265.0,353.1 L265.5,353.4 L266.0,353.3 L266.5,353.0 L267.0,353.2 L267.5,353.4 L268.0,353.3 L268.5,353.4 L269.0,353.6 L269.5,353.5 L270.0,353.5 L270.5,353.6 L271.0,353.5 L271.5,353.5 L272.0,353.6 L272.5,353.3 L273.0,353.4 L273.5,353.3 L274.0,353.7 L274.5,353.3 L275.0,353.6 L275.5,353.8 L276.0,353.7 L276.5,353.8 L277.0,353.6 L277.5,353.8 L278.0,353.7 L278.5,353.7 L279.0,353.6 L279.5,353.8 L280.0,353.6 L280.5,353.7 L281.0,353.5 L281.5,353.6 L282.0,353.6 L282.5,353.4 L283.0,353.4 L283.5,353.3 L284.0,353.3 L284.5,353.3 L285.0,353.4 L285.5,353.0 L286.0,353.1 L286.5,352.9 L287.0,353.2 L287.5,352.9 L288.0,353.0 L288.5,353.2 L289.0,353.0 L289.5,353.1 L290.0,353.0 L290.5,352.8 L291.0,352.9 L291.5,352.7 L292.0,352.7 L292.5,352.5 L293.0,352.9 L293.5,352.5 L294.0,352.3 L294.5,352.6 L295.0,352.5 L295.5,352.4 L296.0,352.3 L296.5,352.2 L297.0,352.1 L297.5,352.3 L298.0,352.1 L298.5,352.2 L299.0,351.8 L299.5,352.0 L300.0,352.1 L300.5,352.1 L301.0,352.1 L301.5,351.8 L302.0,351.7 L302.5,351.9 L303.0,351.7 L303.5,351.7 L304.0,351.5 L304.5,351.6 L305.0,351.4 L305.5,351.4 L306.0,351.3 L306.5,351.4 L307.0,351.3 L307.5,351.5 L308.0,351.2 L308.5,351.0 L309.0,350.9 L309.5,351.1 L310.0,351.0 L310.5,351.0 L311.0,350.9 L311.5,350.9 L312.0,350.7 L312.5,350.5 L313.0,350.6 L313.5,350.9 L314.0,350.7 L314.5,350.5 L315.0,350.5 L315.5,350.5 L316.0,350.5 L316.5,350.5 L317.0,350.2 L317.5,350.4 L318.0,350.6 L318.5,350.3 L319.0,350.4 L319.5,350.4 L320.0,350.5 L320.5,350.7 L321.0,350.5 L321.5,350.5 L322.0,350.6 L322.5,350.4 L323.0,350.3 L323.5,350.5 L324.0,350.6 L324.5,350.4 L325.0,350.5 L325.5,350.5 L326.0,350.5 L326.5,350.5 L327.0,350.4 L327.5,350.4 L328.0,350.2 L328.5,350.6 L329.0,350.6 L329.5,350.4 L330.0,350.3 L330.5,350.7 L331.0,350.7 L331.5,350.6 L332.0,350.2 L332.5,350.5 L333.0,350.3 L333.5,350.4 L334.0,350.4 L334.5,350.4 L335.0,350.6 L335.5,350.3 L336.0,350.4 L336.5,350.4 L337.0,350.3 L337.5,350.3 L338.0,350.2 L338.5,350.2 L339.0,349.9 L339.5,349.6 L340.0,349.0 L340.5,347.9 L341.0,346.2 L341.5,344.6 L342.0,343.2 L342.5,342.0 L343.0,340.4 L343.5,338.7 L344.0,336.7 L344.5,333.5 L345.0,330.4 L345.5,327.7 L346.0,326.5 L346.5,326.5 L347.0,328.6 L347.5,331.9 L348.0,335.8 L348.5,339.4 L349.0,343.1 L349.5,344.8 L350.0,345.9 L350.5,345.9 L351.0,346.0 L351.5,346.1 L352.0,346.8 L352.5,347.2 L353.0,347.7 L353.5,348.3 L354.0,349.5 L354.5,350.9 L355.0,352.2 L355.5,353.0 L356.0,353.2 L356.5,353.2 L357.0,352.9 L357.5,351.9 L358.0,352.2 L358.5,352.9 L359.0,353.9 L359.5,353.8 L360.0,353.1 L360.5,352.6 L361.0,353.3 L361.5,353.6 L362.0,353.5 L362.5,353.1 L363.0,354.0 L363.5,354.7 L364.0,355.1 L364.5,354.9 L365.0,355.1 L365.5,354.8 L366.0,354.8 L366.5,355.0 L367.0,354.9 L367.5,354.8 L368.0,354.8 L368.5,355.1 L369.0,354.9 L369.5,355.1 L370.0,355.0 L370.5,355.0 L371.0,355.0 L371.5,355.2 L372.0,355.1 L372.5,355.2 L373.0,355.2 L373.5,355.0 L374.0,355.1 L374.5,355.4 L375.0,355.1 L375.5,355.1 L376.0,355.0 L376.5,354.9 L377.0,355.2 L377.5,355.2 L378.0,355.0 L378.5,355.2 L379.0,355.0 L379.5,355.2 L380.0,355.3 L380.5,355.4 L381.0,355.3 L381.5,355.4 L382.0,355.1 L382.5,355.2 L383.0,355.2 L383.5,355.3 L384.0,355.3 L384.5,355.3 L385.0,355.3 L385.5,355.3 L386.0,355.2 L386.5,355.2 L387.0,355.1 L387.5,355.3 L388.0,355.3 L388.5,355.2 L389.0,355.5 L389.5,355.3 L390.0,355.2 L390.5,355.3 L391.0,355.3 L391.5,355.5 L392.0,355.3 L392.5,355.4 L393.0,355.2 L393.5,355.3 L394.0,355.4 L394.5,355.4 L395.0,355.3 L395.5,355.3 L396.0,355.6 L396.5,355.4 L397.0,355.3 L397.5,355.6 L398.0,355.2 L398.5,355.3 L399.0,355.4 L399.5,355.5 L400.0,355.5 L400.5,355.5 L401.0,355.4 L401.5,355.4 L402.0,355.8 L402.5,355.2 L403.0,355.6 L403.5,355.7 L404.0,355.4 L404.5,355.4 L405.0,355.5 L405.5,355.7 L406.0,355.7 L406.5,355.6 L407.0,355.6 L407.5,355.6 L408.0,355.5 L408.5,355.7 L409.0,355.8 L409.5,355.6 L410.0,355.7 L410.5,355.5 L411.0,355.9 L411.5,355.8 L412.0,355.9 L412.5,355.7 L413.0,355.7 L413.5,355.8 L414.0,355.8 L414.5,355.9 L415.0,355.7 L415.5,355.9 L416.0,356.0 L416.5,355.7 L417.0,355.7 L417.5,355.8 L418.0,355.7 L418.5,355.9 L419.0,355.7 L419.5,355.7 L420.0,355.4 L420.5,355.4 L421.0,355.4 L421.5,355.3 L422.0,355.4 L422.5,355.2 L423.0,355.0 L423.5,354.9 L424.0,355.1 L424.5,355.1 L425.0,355.0 L425.5,355.1 L426.0,355.2 L426.5,355.3 L427.0,355.3 L427.5,355.5 L428.0,355.4 L428.5,355.3 L429.0,355.7 L429.5,355.6 L430.0,355.8 L430.5,355.9 L431.0,355.8 L431.5,356.0 L432.0,356.2 L432.5,355.9 L433.0,355.8 L433.5,355.6 L434.0,355.3 L434.5,355.2 L435.0,354.8 L435.5,354.8 L436.0,354.4 L436.5,354.1 L437.0,354.5 L437.5,354.1 L438.0,354.0 L438.5,353.7 L439.0,353.4 L439.5,353.2 L440.0,353.1 L440.5,353.2 L441.0,353.2 L441.5,353.2 L442.0,353.4 L442.5,353.4 L443.0,353.3 L443.5,353.3 L444.0,353.6 L444.5,353.5 L445.0,353.5 L445.5,353.5 L446.0,353.6 L446.5,353.7 L447.0,353.7 L447.5,353.6 L448.0,353.7 L448.5,353.8 L449.0,354.0 L449.5,353.7 L450.0,353.7 L450.5,354.1 L451.0,353.7 L451.5,353.8 L452.0,353.9 L452.5,353.9 L453.0,353.7 L453.5,354.0 L454.0,353.7 L454.5,353.8 L455.0,353.8 L455.5,353.7 L456.0,353.5 L456.5,353.0 L457.0,352.8 L457.5,352.6 L458.0,351.6 L458.5,350.1 L459.0,346.9 L459.5,342.3 L460.0,341.4 L460.5,345.9 L461.0,349.4 L461.5,351.3 L462.0,352.3 L462.5,353.3 L463.0,353.6 L463.5,353.8 L464.0,353.5 L464.5,353.7 L465.0,353.6 L465.5,353.6 L466.0,353.6 L466.5,352.9 L467.0,352.5 L467.5,351.5 L468.0,349.5 L468.5,346.7 L469.0,344.3 L469.5,340.8 L470.0,332.8 L470.5,339.2 L471.0,346.9 L471.5,350.2 L472.0,351.2 L472.5,351.6 L473.0,351.1 L473.5,350.0 L474.0,346.7 L474.5,341.3 L475.0,338.4 L475.5,343.5 L476.0,347.9 L476.5,349.6 L477.0,349.7 L477.5,348.4 L478.0,345.2 L478.5,345.0 L479.0,347.9 L479.5,349.9 L480.0,350.7 L480.5,351.2 L481.0,351.0 L481.5,350.8 L482.0,350.2 L482.5,349.4 L483.0,348.1 L483.5,346.4 L484.0,344.3 L484.5,340.8 L485.0,336.2 L485.5,330.8 L486.0,328.9 L486.5,328.7 L487.0,327.5 L487.5,323.9 L488.0,318.2 L488.5,311.6 L489.0,306.9 L489.5,306.7 L490.0,312.4 L490.5,320.5 L491.0,328.6 L491.5,334.2 L492.0,336.8 L492.5,337.1 L493.0,338.7 L493.5,342.8 L494.0,346.3 L494.5,348.7 L495.0,350.1 L495.5,351.2 L496.0,351.7 L496.5,352.1 L497.0,352.7 L497.5,352.5 L498.0,352.5 L498.5,351.7 L499.0,350.3 L499.5,348.0 L500.0,343.5 L500.5,338.4 L501.0,339.2 L501.5,345.1 L502.0,349.3 L502.5,352.0 L503.0,353.4 L503.5,354.5 L504.0,355.1 L504.5,355.3 L505.0,355.6 L505.5,355.6 L506.0,355.8 L506.5,355.9 L507.0,355.7 L507.5,355.2 L508.0,354.5 L508.5,353.0 L509.0,350.7 L509.5,345.6 L510.0,339.2 L510.5,340.5 L511.0,347.3 L511.5,351.8 L512.0,354.3 L512.5,355.9 L513.0,356.6 L513.5,357.0 L514.0,357.6 L514.5,357.9 L515.0,357.8 L515.5,358.2 L516.0,358.5 L516.5,358.5 L517.0,358.8 L517.5,358.8 L518.0,358.8 L518.5,358.9 L519.0,358.8 L519.5,358.8 L520.0,359.3 L520.5,359.0 L521.0,359.3 L521.5,359.1 L522.0,359.3 L522.5,359.4 L523.0,359.5 L523.5,359.4 L524.0,359.6 L524.5,359.4 L525.0,359.8 L525.5,359.8 L526.0,359.6 L526.5,359.7 L527.0,359.7 L527.5,359.6 L528.0,359.9 L528.5,359.9 L529.0,359.9 L529.5,359.8 L530.0,359.8 L530.5,360.0 L531.0,360.0 L531.5,359.9 L532.0,360.1 L532.5,359.8 L533.0,360.1 L533.5,359.8 L534.0,360.0 L534.5,360.1 L535.0,360.1 L535.5,359.9 L536.0,358.8 L536.5,358.2 L537.0,358.9 L537.5,359.8 L537.5,359.8" fill="none" stroke="#f98b2a" stroke-width="1.5" stroke-linejoin="round" stroke-linecap="round"/>
<path d="M257.5,414.1 L258.0,414.0 L258.5,413.9 L259.0,413.7 L259.5,413.9 L260.0,414.0 L260.5,414.0 L261.0,413.9 L261.5,414.1 L262.0,414.2 L262.5,414.1 L263.0,414.2 L263.5,414.2 L264.0,414.4 L264.5,414.2 L265.0,414.1 L265.5,414.4 L266.0,414.3 L266.5,414.0 L267.0,414.2 L267.5,414.4 L268.0,414.3 L268.5,414.4 L269.0,414.6 L269.5,414.5 L270.0,414.5 L270.5,414.6 L271.0,414.5 L271.5,414.5 L272.0,414.6 L272.5,414.3 L273.0,414.4 L273.5,414.3 L274.0,414.7 L274.5,414.3 L275.0,414.6 L275.5,414.8 L276.0,414.7 L276.5,414.8 L277.0,414.6 L277.5,414.8 L278.0,414.7 L278.5,414.7 L279.0,414.6 L279.5,414.8 L280.0,414.6 L280.5,414.7 L281.0,414.5 L281.5,414.6 L282.0,414.6 L282.5,414.4 L283.0,414.4 L283.5,414.3 L284.0,414.3 L284.5,414.3 L285.0,414.4 L285.5,414.0 L286.0,414.1 L286.5,413.9 L287.0,414.2 L287.5,413.9 L288.0,414.0 L288.5,414.2 L289.0,414.0 L289.5,414.1 L290.0,414.0 L290.5,413.8 L291.0,413.9 L291.5,413.7 L292.0,413.7 L292.5,413.5 L293.0,413.9 L293.5,413.5 L294.0,413.3 L294.5,413.6 L295.0,413.4 L295.5,413.4 L296.0,413.3 L296.5,413.2 L297.0,413.1 L297.5,413.3 L298.0,413.1 L298.5,413.2 L299.0,412.8 L299.5,413.0 L300.0,413.1 L300.5,413.1 L301.0,413.1 L301.5,412.8 L302.0,412.7 L302.5,412.9 L303.0,412.7 L303.5,412.7 L304.0,412.5 L304.5,412.6 L305.0,412.4 L305.5,412.4 L306.0,412.3 L306.5,412.4 L307.0,412.3 L307.5,412.5 L308.0,412.2 L308.5,412.0 L309.0,411.9 L309.5,412.1 L310.0,412.0 L310.5,412.0 L311.0,411.9 L311.5,411.9 L312.0,411.7 L312.5,411.5 L313.0,411.6 L313.5,411.9 L314.0,411.7 L314.5,411.5 L315.0,411.5 L315.5,411.5 L316.0,411.5 L316.5,411.5 L317.0,411.2 L317.5,411.4 L318.0,411.6 L318.5,411.3 L319.0,411.4 L319.5,411.4 L320.0,411.5 L320.5,411.7 L321.0,411.5 L321.5,411.5 L322.0,411.6 L322.5,411.4 L323.0,411.3 L323.5,411.5 L324.0,411.6 L324.5,411.4 L325.0,411.5 L325.5,411.5 L326.0,411.5 L326.5,411.5 L327.0,411.4 L327.5,411.4 L328.0,411.2 L328.5,411.6 L329.0,411.6 L329.5,411.4 L330.0,411.3 L330.5,411.7 L331.0,411.7 L331.5,411.6 L332.0,411.2 L332.5,411.5 L333.0,411.3 L333.5,411.4 L334.0,411.4 L334.5,411.4 L335.0,411.6 L335.5,411.3 L336.0,411.4 L336.5,411.4 L337.0,411.3 L337.5,411.3 L338.0,411.2 L338.5,411.2 L339.0,410.9 L339.5,410.6 L340.0,410.0 L340.5,408.9 L341.0,407.2 L341.5,405.6 L342.0,404.2 L342.5,403.0 L343.0,401.4 L343.5,399.7 L344.0,397.7 L344.5,394.5 L345.0,391.4 L345.5,388.7 L346.0,387.5 L346.5,387.5 L347.0,389.6 L347.5,392.9 L348.0,396.8 L348.5,400.4 L349.0,404.1 L349.5,405.8 L350.0,406.9 L350.5,406.9 L351.0,407.0 L351.5,407.1 L352.0,407.8 L352.5,408.2 L353.0,408.7 L353.5,409.3 L354.0,410.5 L354.5,411.9 L355.0,413.2 L355.5,414.0 L356.0,414.2 L356.5,414.2 L357.0,413.9 L357.5,412.9 L358.0,413.2 L358.5,413.9 L359.0,414.9 L359.5,414.8 L360.0,414.1 L360.5,413.6 L361.0,414.3 L361.5,414.6 L362.0,414.5 L362.5,414.1 L363.0,415.0 L363.5,415.7 L364.0,416.1 L364.5,415.9 L365.0,416.1 L365.5,415.8 L366.0,415.8 L366.5,416.0 L367.0,415.9 L367.5,415.8 L368.0,415.8 L368.5,416.1 L369.0,415.9 L369.5,416.1 L370.0,416.0 L370.5,416.0 L371.0,416.0 L371.5,416.2 L372.0,416.1 L372.5,416.2 L373.0,416.2 L373.5,416.0 L374.0,416.1 L374.5,416.4 L375.0,416.1 L375.5,416.1 L376.0,416.0 L376.5,415.9 L377.0,416.2 L377.5,416.2 L378.0,416.0 L378.5,416.2 L379.0,416.0 L379.5,416.2 L380.0,416.3 L380.5,416.4 L381.0,416.3 L381.5,416.4 L382.0,416.1 L382.5,416.2 L383.0,416.2 L383.5,416.3 L384.0,416.3 L384.5,416.3 L385.0,416.3 L385.5,416.3 L386.0,416.2 L386.5,416.2 L387.0,416.1 L387.5,416.3 L388.0,416.3 L388.5,416.2 L389.0,416.5 L389.5,416.3 L390.0,416.2 L390.5,416.3 L391.0,416.3 L391.5,416.5 L392.0,416.3 L392.5,416.4 L393.0,416.2 L393.5,416.3 L394.0,416.4 L394.5,416.4 L395.0,416.3 L395.5,416.3 L396.0,416.6 L396.5,416.4 L397.0,416.3 L397.5,416.6 L398.0,416.2 L398.5,416.3 L399.0,416.4 L399.5,416.5 L400.0,416.5 L400.5,416.5 L401.0,416.4 L401.5,416.4 L402.0,416.8 L402.5,416.2 L403.0,416.6 L403.5,416.7 L404.0,416.4 L404.5,416.4 L405.0,416.5 L405.5,416.7 L406.0,416.7 L406.5,416.6 L407.0,416.6 L407.5,416.6 L408.0,416.5 L408.5,416.7 L409.0,416.8 L409.5,416.6 L410.0,416.7 L410.5,416.5 L411.0,416.9 L411.5,416.8 L412.0,416.9 L412.5,416.7 L413.0,416.7 L413.5,416.8 L414.0,416.8 L414.5,416.9 L415.0,416.7 L415.5,416.9 L416.0,417.0 L416.5,416.7 L417.0,416.7 L417.5,416.8 L418.0,416.7 L418.5,416.9 L419.0,416.7 L419.5,416.7 L420.0,416.4 L420.5,416.4 L421.0,416.4 L421.5,416.3 L422.0,416.4 L422.5,416.2 L423.0,416.0 L423.5,415.9 L424.0,416.1 L424.5,416.1 L425.0,416.0 L425.5,416.1 L426.0,416.2 L426.5,416.3 L427.0,416.3 L427.5,416.5 L428.0,416.4 L428.5,416.3 L429.0,416.7 L429.5,416.6 L430.0,416.8 L430.5,416.9 L431.0,416.8 L431.5,417.0 L432.0,417.2 L432.5,416.9 L433.0,416.8 L433.5,416.6 L434.0,416.3 L434.5,416.2 L435.0,415.8 L435.5,415.8 L436.0,415.4 L436.5,415.1 L437.0,415.5 L437.5,415.1 L438.0,415.0 L438.5,414.7 L439.0,414.4 L439.5,414.2 L440.0,414.1 L440.5,414.2 L441.0,414.2 L441.5,414.2 L442.0,414.4 L442.5,414.4 L443.0,414.3 L443.5,414.3 L444.0,414.6 L444.5,414.5 L445.0,414.5 L445.5,414.5 L446.0,414.6 L446.5,414.7 L447.0,414.7 L447.5,414.6 L448.0,414.7 L448.5,414.8 L449.0,415.0 L449.5,414.7 L450.0,414.7 L450.5,415.1 L451.0,414.7 L451.5,414.8 L452.0,414.9 L452.5,414.9 L453.0,414.7 L453.5,415.0 L454.0,414.7 L454.5,414.8 L455.0,414.8 L455.5,414.7 L456.0,414.5 L456.5,414.0 L457.0,413.8 L457.5,413.6 L458.0,412.6 L458.5,411.1 L459.0,407.9 L459.5,403.3 L460.0,402.4 L460.5,406.9 L461.0,410.4 L461.5,412.3 L462.0,413.3 L462.5,414.2 L463.0,414.6 L463.5,414.8 L464.0,414.5 L464.5,414.7 L465.0,414.6 L465.5,414.6 L466.0,414.6 L466.5,413.9 L467.0,413.5 L467.5,412.5 L468.0,410.5 L468.5,407.6 L469.0,405.3 L469.5,401.7 L470.0,393.7 L470.5,400.1 L471.0,407.9 L471.5,411.2 L472.0,412.2 L472.5,412.5 L473.0,412.1 L473.5,411.0 L474.0,407.7 L474.5,402.3 L475.0,399.4 L475.5,404.5 L476.0,408.9 L476.5,410.6 L477.0,410.6 L477.5,409.3 L478.0,406.2 L478.5,405.9 L479.0,408.8 L479.5,410.9 L480.0,411.6 L480.5,412.2 L481.0,412.0 L481.5,411.7 L482.0,411.1 L482.5,410.2 L483.0,408.9 L483.5,407.3 L484.0,405.1 L484.5,401.6 L485.0,396.9 L485.5,391.5 L486.0,389.4 L486.5,389.2 L487.0,387.8 L487.5,383.9 L488.0,377.8 L488.5,370.9 L489.0,366.0 L489.5,365.8 L490.0,371.7 L490.5,380.2 L491.0,388.7 L491.5,394.5 L492.0,397.2 L492.5,397.7 L493.0,399.4 L493.5,403.5 L494.0,407.1 L494.5,409.5 L495.0,410.9 L495.5,412.0 L496.0,412.6 L496.5,413.0 L497.0,413.6 L497.5,413.5 L498.0,413.4 L498.5,412.6 L499.0,411.3 L499.5,409.0 L500.0,404.5 L500.5,399.4 L501.0,400.2 L501.5,406.0 L502.0,410.3 L502.5,412.9 L503.0,414.4 L503.5,415.5 L504.0,416.1 L504.5,416.3 L505.0,416.6 L505.5,416.5 L506.0,416.8 L506.5,416.9 L507.0,416.7 L507.5,416.2 L508.0,415.5 L508.5,414.0 L509.0,411.7 L509.5,406.6 L510.0,400.2 L510.5,401.5 L511.0,408.3 L511.5,412.8 L512.0,415.3 L512.5,416.9 L513.0,417.6 L513.5,418.0 L514.0,418.6 L514.5,418.9 L515.0,418.8 L515.5,419.2 L516.0,419.4 L516.5,419.5 L517.0,419.8 L517.5,419.8 L518.0,419.8 L518.5,419.9 L519.0,419.8 L519.5,419.8 L520.0,420.2 L520.5,420.0 L521.0,420.3 L521.5,420.1 L522.0,420.3 L522.5,420.4 L523.0,420.5 L523.5,420.4 L524.0,420.6 L524.5,420.4 L525.0,420.7 L525.5,420.8 L526.0,420.6 L526.5,420.7 L527.0,420.7 L527.5,420.6 L528.0,420.9 L528.5,420.9 L529.0,420.9 L529.5,420.8 L530.0,420.8 L530.5,421.0 L531.0,420.9 L531.5,420.9 L532.0,421.0 L532.5,420.8 L533.0,421.1 L533.5,420.8 L534.0,421.0 L534.5,421.1 L535.0,421.1 L535.5,420.9 L536.0,419.8 L536.5,419.2 L537.0,419.9 L537.5,420.8 L537.5,420.8" fill="none" stroke="#2150ab" stroke-width="1.6" stroke-linejoin="round" stroke-linecap="round"/>
<rect x="257.3" y="262.4" width="280.3" height="191.20000000000005" fill="none" stroke="#484848" stroke-width="1.5"/>
<path d="M257.5,453.6 v-4.0 M297.5,453.6 v-2.5 M337.5,453.6 v-4.0 M377.5,453.6 v-2.5 M417.5,453.6 v-4.0 M457.5,453.6 v-2.5 M497.5,453.6 v-4.0" stroke="#3a3a3a" stroke-width="1.2"/>
<line x1="263.1" y1="276.3" x2="293.1" y2="276.3" stroke="#2150ab" stroke-width="1.5"/>
<line x1="263.1" y1="291.2" x2="293.1" y2="291.2" stroke="#f98b2a" stroke-width="1.5"/>
<text x="296.6" y="280.4" font-size="12.4" font-weight="bold" fill="#111" font-family="'Liberation Serif','Times New Roman',serif" text-anchor="start" textLength="171.8" lengthAdjust="spacingAndGlyphs" stroke="#111" stroke-width="0.28">PEG/GCA before Measurement</text>
<text x="296.6" y="294.8" font-size="12.4" font-weight="bold" fill="#111" font-family="'Liberation Serif','Times New Roman',serif" text-anchor="start" textLength="164.0" lengthAdjust="spacingAndGlyphs" stroke="#111" stroke-width="0.28">PEG/GCA after Measurement</text>
<text x="257.0" y="466.9" font-size="11" font-weight="normal" fill="#111" font-family="'Liberation Sans',Arial,sans-serif" text-anchor="middle" textLength="25.6" lengthAdjust="spacingAndGlyphs" stroke="#111" stroke-width="0.3">4000</text>
<text x="337.5" y="466.7" font-size="12" font-weight="normal" fill="#111" font-family="'Liberation Serif','Times New Roman',serif" text-anchor="middle" textLength="25.1" lengthAdjust="spacingAndGlyphs" stroke="#111" stroke-width="0.25">3000</text>
<text x="417.5" y="466.7" font-size="12" font-weight="normal" fill="#111" font-family="'Liberation Serif','Times New Roman',serif" text-anchor="middle" textLength="25.1" lengthAdjust="spacingAndGlyphs" stroke="#111" stroke-width="0.25">2000</text>
<text x="497.5" y="466.7" font-size="12" font-weight="normal" fill="#111" font-family="'Liberation Serif','Times New Roman',serif" text-anchor="middle" textLength="25.1" lengthAdjust="spacingAndGlyphs" stroke="#111" stroke-width="0.25">1000</text>
<text x="341" y="478.6" font-size="13.6" font-weight="bold" fill="#111" stroke="#111" stroke-width="0.28" font-family="'Liberation Serif','Times New Roman',serif" textLength="126" lengthAdjust="spacingAndGlyphs">Wavenumber (cm<tspan dy="-5" font-size="9">−1</tspan><tspan dy="5">)</tspan></text>
<g transform="translate(248.6,360.9) scale(1.05,1) rotate(-90)"><text x="0.0" y="0.0" font-size="13.2" font-weight="bold" fill="#111" font-family="'Liberation Serif','Times New Roman',serif" text-anchor="middle" textLength="102.3" lengthAdjust="spacingAndGlyphs" stroke="#111" stroke-width="0.28">Absorbance (a.u.)</text></g>
<defs>
<filter id="b3" x="-20%" y="-20%" width="140%" height="140%"><feGaussianBlur stdDeviation="2.5"/></filter>
<filter id="b6" x="-30%" y="-30%" width="160%" height="160%"><feGaussianBlur stdDeviation="5"/></filter>
<filter id="b1" x="-20%" y="-20%" width="140%" height="140%"><feGaussianBlur stdDeviation="0.8"/></filter>
<filter id="b05" x="-20%" y="-20%" width="140%" height="140%"><feGaussianBlur stdDeviation="0.45"/></filter>
<filter id="texA" filterUnits="userSpaceOnUse" x="42.4" y="255.2" width="184.2" height="110.80000000000001">
  <feTurbulence type="fractalNoise" baseFrequency="0.25 0.2" numOctaves="2" seed="4" result="n"/>
  <feColorMatrix in="n" type="matrix" values="1 0 0 0 0  1 0 0 0 0  1 0 0 0 0  0 0 0 0 1" result="gn"/>
  <feComposite in="SourceGraphic" in2="gn" operator="arithmetic" k1="0" k2="1" k3="0.10" k4="-0.05"/>
</filter>
<filter id="texB" filterUnits="userSpaceOnUse" x="42.4" y="374.0" width="184.2" height="110.60000000000002">
  <feTurbulence type="fractalNoise" baseFrequency="0.3 0.3" numOctaves="2" seed="9" result="n"/>
  <feColorMatrix in="n" type="matrix" values="1 0 0 0 0  1 0 0 0 0  1 0 0 0 0  0 0 0 0 1" result="gn"/>
  <feComposite in="SourceGraphic" in2="gn" operator="arithmetic" k1="0" k2="1" k3="0.12" k4="-0.06"/>
</filter>
<filter id="ridgeA" x="0" y="0" width="100%" height="100%">
  <feTurbulence type="turbulence" baseFrequency="0.045 0.13" numOctaves="2" seed="5" result="t"/>
  <feColorMatrix in="t" type="matrix" values="0 0 0 0 1  0 0 0 0 1  0 0 0 0 1  -1 0 0 0 1" result="inv"/>
  <feComponentTransfer in="inv" result="W"><feFuncA type="gamma" amplitude="1" exponent="7" offset="0"/></feComponentTransfer>
  <feOffset in="W" dx="0.9" dy="0.9" result="Wo"/>
  <feColorMatrix in="Wo" type="matrix" values="0 0 0 0 0  0 0 0 0 0  0 0 0 0 0  0 0 0 0.7 0" result="B"/>
  <feMerge><feMergeNode in="B"/><feMergeNode in="W"/></feMerge>
</filter>
<filter id="ridgeB" x="0" y="0" width="100%" height="100%">
  <feTurbulence type="turbulence" baseFrequency="0.06 0.16" numOctaves="2" seed="12" result="t"/>
  <feColorMatrix in="t" type="matrix" values="0 0 0 0 1  0 0 0 0 1  0 0 0 0 1  -1 0 0 0 1" result="inv"/>
  <feComponentTransfer in="inv" result="W"><feFuncA type="gamma" amplitude="1" exponent="8" offset="0"/></feComponentTransfer>
  <feOffset in="W" dx="0.8" dy="0.8" result="Wo"/>
  <feColorMatrix in="Wo" type="matrix" values="0 0 0 0 0  0 0 0 0 0  0 0 0 0 0  0 0 0 0.6 0" result="B"/>
  <feMerge><feMergeNode in="B"/><feMergeNode in="W"/></feMerge>
</filter>
<filter id="ridgeC" x="0" y="0" width="100%" height="100%">
  <feTurbulence type="turbulence" baseFrequency="0.02 0.07" numOctaves="2" seed="3" result="t"/>
  <feColorMatrix in="t" type="matrix" values="0 0 0 0 1  0 0 0 0 1  0 0 0 0 1  -1 0 0 0 1" result="inv"/>
  <feComponentTransfer in="inv" result="W"><feFuncA type="gamma" amplitude="1" exponent="9" offset="0"/></feComponentTransfer>
  <feGaussianBlur in="W" stdDeviation="0.5" result="Wb"/>
  <feOffset in="Wb" dx="1" dy="1" result="Wo"/>
  <feColorMatrix in="Wo" type="matrix" values="0 0 0 0 0  0 0 0 0 0  0 0 0 0 0  0 0 0 0.6 0" result="B"/>
  <feMerge><feMergeNode in="B"/><feMergeNode in="Wb"/></feMerge>
</filter>
<linearGradient id="bandG" gradientUnits="userSpaceOnUse" x1="100" y1="255" x2="205" y2="330">
  <stop offset="0" stop-color="#b4b4b4"/><stop offset="0.6" stop-color="#a8a8a8"/><stop offset="1" stop-color="#969696"/>
</linearGradient>
<clipPath id="clipLight"><path d="M60,392 L75,380 L100,376 L125,376 L140,385 L150,400 L148,418 L130,426 L100,428 L75,424 L62,410Z" transform="rotate(-35 100 400)"/></clipPath>
<mask id="mLight" maskUnits="userSpaceOnUse" x="0" y="360" width="240" height="140"><path d="M50,395 L68,376 L95,368 L140,368 L156,386 L164,405 L156,426 L125,432 L95,432 L66,428 L52,412Z" fill="#fff" filter="url(#b3)"/></mask>
<mask id="mLow" maskUnits="userSpaceOnUse" x="0" y="360" width="240" height="140"><path d="M30,415 L240,410 L240,500 L30,500Z" fill="#fff" filter="url(#b6)"/><path d="M30,370 L60,370 L60,420 L30,420Z" fill="#999" filter="url(#b6)"/></mask>
<mask id="mDark" maskUnits="userSpaceOnUse" x="0" y="360" width="240" height="140"><path d="M155,370 L232,370 L232,420 L165,410Z" fill="#fff" filter="url(#b3)"/></mask>
<clipPath id="clipS1"><rect x="42.4" y="255.2" width="184.2" height="110.8"/></clipPath>
<clipPath id="clipS2"><rect x="42.4" y="374.0" width="184.2" height="110.6"/></clipPath>
</defs>
<g clip-path="url(#clipS1)"><g filter="url(#texA)">
<rect x="42.4" y="255.2" width="184.2" height="110.8" fill="#545454"/>
<path d="M38.0,250.0 L60.0,250.0 L70.0,275.0 L50.0,290.0 L38.0,290.0Z" fill="#505050" fill-opacity="1" filter="url(#b3)"/>
<path d="M150.0,250.0 L232.0,250.0 L232.0,330.0 L215.0,335.0 L211.9,332.0 L203.5,312.0 L193.4,298.7 L176.5,282.0 L165.0,268.0 L154.7,250.0Z" fill="#616161" fill-opacity="1" filter="url(#b1)"/>
<path d="M200.0,250.0 L232.0,250.0 L232.0,268.0 L210.0,266.0Z" fill="#6a6a6a" fill-opacity="0.7" filter="url(#b3)"/>
<path d="M76.0,250.0 L80.0,257.0 L92.5,273.0 L106.0,285.0 L120.0,295.0 L135.0,303.0 L150.0,307.0 L165.0,312.0 L180.0,320.0 L197.0,329.0 L210.0,335.7 L205.0,343.0 L190.0,334.0 L170.0,324.0 L150.0,316.0 L130.0,309.0 L110.0,301.0 L92.0,291.0 L75.0,278.0 L60.0,262.0 L50.0,250.0Z" fill="#7c7c7c" fill-opacity="1" filter="url(#b3)"/>
<path d="M76.0,250.0 L80.0,257.0 L92.5,273.0 L106.0,285.0 L120.0,295.0 L135.0,303.0 L150.0,307.0 L165.0,312.0 L180.0,320.0 L197.0,329.0 L210.0,335.7 L216.0,340.0 L216.0,340.0 L211.9,332.0 L203.5,312.0 L193.4,298.7 L176.5,282.0 L165.0,268.0 L154.7,250.0Z" fill="url(#bandG)" fill-opacity="1" filter="url(#b1)"/>
<path d="M100.0,252.0 L150.0,252.0 L165.0,272.0 L172.0,290.0 L150.0,296.0 L125.0,285.0 L108.0,268.0Z" fill="#b6b6b6" fill-opacity="0.7" filter="url(#b6)"/>
<path d="M154.7,250.0 L155.8,252.0 L157.3,254.8 L159.1,258.1 L161.1,261.6 L163.1,265.0 L165.0,268.0 L166.8,270.5 L168.5,272.9 L170.3,275.1 L172.2,277.3 L174.3,279.6 L176.5,282.0 L179.1,284.7 L182.0,287.5 L185.0,290.4 L188.1,293.3 L190.9,296.1 L193.4,298.7 L195.5,301.0 L197.3,303.1 L199.0,305.1 L200.5,307.2 L202.0,309.4 L203.5,312.0 L205.0,315.1 L206.6,318.6 L208.1,322.3 L209.5,326.0 L210.8,329.3 L211.9,332.0 L212.9,334.1 L213.7,335.9 L214.5,337.2 L215.1,338.4 L215.6,339.3 L216.0,340.0" fill="none" stroke="#3e3e3e" stroke-width="2.4" stroke-opacity="0.6" stroke-linecap="round" stroke-linejoin="round" filter="url(#b1)"/>
<path d="M80.3,256.2 L81.6,258.0 L83.5,260.5 L85.7,263.4 L88.1,266.6 L90.5,269.6 L92.8,272.2 L95.0,274.5 L97.2,276.6 L99.5,278.6 L101.7,280.5 L104.0,282.4 L106.3,284.2 L108.6,286.0 L110.9,287.8 L113.2,289.4 L115.5,291.1 L117.9,292.7 L120.3,294.2 L122.7,295.7 L125.2,297.2 L127.7,298.6 L130.3,299.9 L132.8,301.1 L135.3,302.2 L137.8,303.1 L140.3,303.8 L142.8,304.4 L145.3,304.9 L147.8,305.5 L150.3,306.2 L152.8,306.9 L155.3,307.7 L157.8,308.4 L160.3,309.3 L162.8,310.2 L165.3,311.2 L167.8,312.3 L170.2,313.6 L172.7,314.9 L175.2,316.3 L177.7,317.8 L180.3,319.2 L183.2,320.7 L186.4,322.5 L189.7,324.2 L192.8,325.8 L195.4,327.2 L197.3,328.2" fill="none" stroke="#cdcdcd" stroke-width="1.0" stroke-opacity="0.7" stroke-linecap="round" stroke-linejoin="round" filter="url(#b05)"/>
<path d="M79.0,258.6 L80.3,260.4 L82.2,262.9 L84.4,265.9 L86.8,269.0 L89.2,272.0 L91.5,274.6 L93.7,276.9 L95.9,279.0 L98.2,281.0 L100.4,282.9 L102.7,284.8 L105.0,286.6 L107.3,288.4 L109.6,290.2 L111.9,291.9 L114.2,293.5 L116.6,295.1 L119.0,296.6 L121.4,298.1 L123.9,299.6 L126.4,301.0 L129.0,302.3 L131.5,303.5 L134.0,304.6 L136.5,305.5 L139.0,306.2 L141.5,306.8 L144.0,307.3 L146.5,307.9 L149.0,308.6 L151.5,309.3 L154.0,310.1 L156.5,310.9 L159.0,311.7 L161.5,312.6 L164.0,313.6 L166.5,314.7 L168.9,316.0 L171.4,317.4 L173.9,318.7 L176.4,320.2 L179.0,321.6 L181.9,323.1 L185.1,324.9 L188.4,326.6 L191.5,328.2 L194.1,329.6 L196.0,330.6" fill="none" stroke="#3c3c3c" stroke-width="1.8" stroke-opacity="0.55" stroke-linecap="round" stroke-linejoin="round" filter="url(#b1)"/>
<path d="M55.0,256.0 L57.2,257.5 L60.2,259.6 L63.8,262.1 L67.6,264.8 L71.4,267.5 L75.0,270.0 L78.3,272.4 L81.7,274.7 L85.0,277.1 L88.3,279.5 L91.7,281.8 L95.0,284.0 L98.6,286.3 L102.4,288.6 L106.2,290.9 L109.8,293.0 L112.8,294.7 L115.0,296.0" fill="none" stroke="#c3c3c3" stroke-width="1.8" stroke-opacity="0.6" stroke-linecap="round" stroke-linejoin="round" filter="url(#b1)"/>
<path d="M63.0,255.0 L64.8,256.3 L67.3,258.0 L70.2,260.1 L73.5,262.4 L76.8,264.7 L80.0,267.0 L83.2,269.3 L86.4,271.6 L89.8,274.1 L93.2,276.5 L96.6,278.8 L100.0,281.0 L103.6,283.1 L107.4,285.3 L111.2,287.4 L114.8,289.3 L117.8,290.8 L120.0,292.0" fill="none" stroke="#c3c3c3" stroke-width="1.6" stroke-opacity="0.65" stroke-linecap="round" stroke-linejoin="round" filter="url(#b1)"/>
<path d="M70.0,257.0 L71.7,258.2 L74.1,259.8 L76.9,261.8 L79.9,263.9 L83.0,266.0 L86.0,268.0 L89.1,270.1 L92.5,272.4 L96.0,274.7 L99.3,276.9 L102.0,278.7 L104.0,280.0" fill="none" stroke="#c3c3c3" stroke-width="1.5" stroke-opacity="0.6" stroke-linecap="round" stroke-linejoin="round" filter="url(#b1)"/>
<path d="M50.0,263.0 L51.6,264.3 L53.7,266.1 L56.2,268.2 L59.1,270.5 L62.0,272.8 L65.0,275.0 L68.1,277.2 L71.5,279.4 L75.0,281.8 L78.5,284.0 L81.9,286.1 L85.0,288.0 L88.0,289.7 L90.9,291.3 L93.8,292.8 L96.3,294.1 L98.4,295.2 L100.0,296.0" fill="none" stroke="#c3c3c3" stroke-width="1.6" stroke-opacity="0.45" stroke-linecap="round" stroke-linejoin="round" filter="url(#b1)"/>
<path d="M90.0,291.0 L92.2,291.9 L95.2,293.1 L98.8,294.6 L102.6,296.2 L106.4,297.7 L110.0,299.0 L113.6,300.2 L117.4,301.4 L121.2,302.5 L124.8,303.5 L127.8,304.4 L130.0,305.0" fill="none" stroke="#c3c3c3" stroke-width="1.4" stroke-opacity="0.4" stroke-linecap="round" stroke-linejoin="round" filter="url(#b1)"/>
<path d="M118.0,302.0 L120.2,302.8 L123.3,303.9 L126.9,305.2 L130.8,306.6 L134.6,307.9 L138.0,309.0 L141.2,309.9 L144.5,310.7 L147.8,311.4 L150.7,312.1 L153.2,312.6 L155.0,313.0" fill="none" stroke="#c3c3c3" stroke-width="1.4" stroke-opacity="0.4" stroke-linecap="round" stroke-linejoin="round" filter="url(#b1)"/>
<path d="M160.0,318.0 L162.0,318.9 L164.7,320.1 L167.9,321.5 L171.4,323.0 L174.8,324.6 L178.0,326.0 L181.1,327.4 L184.4,329.0 L187.6,330.5 L190.6,331.9 L193.2,333.1 L195.0,334.0" fill="none" stroke="#c3c3c3" stroke-width="1.3" stroke-opacity="0.35" stroke-linecap="round" stroke-linejoin="round" filter="url(#b1)"/>
<path d="M38.0,318.0 L90.0,326.0 L140.0,336.0 L190.0,345.0 L205.0,352.0 L180.0,356.0 L120.0,350.0 L70.0,345.0 L38.0,342.0Z" fill="#4a4a4a" fill-opacity="0.85" filter="url(#b6)"/>
<path d="M38.0,352.0 L232.0,352.0 L232.0,372.0 L38.0,372.0Z" fill="#5a5a5a" fill-opacity="0.8" filter="url(#b6)"/>
<path d="M207.0,332.0 L232.0,320.0 L232.0,372.0 L204.0,372.0Z" fill="#727272" fill-opacity="0.9" filter="url(#b6)"/>
<path d="M145.0,306.0 L160.0,307.0 L176.0,313.0 L182.0,322.0 L170.0,326.0 L152.0,320.0Z" fill="#707070" fill-opacity="0.9" filter="url(#b1)"/>
<circle cx="152" cy="312" r="2.2" fill="#5a5a5a" filter="url(#b1)"/>
<circle cx="160" cy="316" r="2.5" fill="#8c8c8c" filter="url(#b1)"/>
<circle cx="166" cy="311" r="2" fill="#5f5f5f" filter="url(#b1)"/>
<circle cx="172" cy="318" r="2.2" fill="#919191" filter="url(#b1)"/>
<circle cx="158" cy="321" r="1.8" fill="#5a5a5a" filter="url(#b1)"/>
<circle cx="176" cy="322" r="1.8" fill="#646464" filter="url(#b1)"/>
<circle cx="150" cy="318" r="1.5" fill="#8c8c8c" filter="url(#b1)"/>
<ellipse cx="122.5" cy="273" rx="2.6" ry="6" transform="rotate(-25 122.5 273)" fill="#969696" filter="url(#b1)"/>
<path d="M119.0,265.5 L119.4,265.4 L120.1,265.2 L120.8,265.1 L121.6,264.9 L122.3,264.9 L123.0,265.0 L123.6,265.3 L124.3,265.7 L124.9,266.2 L125.5,266.7 L126.0,267.3 L126.5,268.0 L126.9,268.7 L127.2,269.5 L127.5,270.3 L127.7,271.2 L127.9,272.1 L128.0,273.0 L128.1,274.0 L128.1,275.1 L128.1,276.3 L128.1,277.4 L128.0,278.3 L128.0,279.0" fill="none" stroke="#cdcdcd" stroke-width="1.1" stroke-opacity="0.6" stroke-linecap="round" stroke-linejoin="round" filter="url(#b1)"/>
<path d="M43.5,323.5 L44.8,322.9 L46.5,322.1 L48.6,321.1 L50.8,320.0 L53.0,319.0 L55.0,318.0 L56.9,317.1 L58.8,316.2 L60.7,315.3 L62.5,314.5 L64.3,313.7 L66.0,313.0 L67.7,312.4 L69.3,311.9 L70.9,311.5 L72.4,311.1 L73.6,310.8 L74.5,310.6" fill="none" stroke="#d7d7d7" stroke-width="1.4300000000000002" stroke-opacity="0.5599999999999999" stroke-linecap="round" stroke-linejoin="round" filter="url(#b1)"/>
<path d="M78.0,342.5 L79.9,342.1 L82.5,341.6 L85.6,340.9 L88.9,340.2 L92.1,339.6 L95.0,339.0 L97.5,338.5 L99.8,338.1 L102.0,337.7 L104.2,337.3 L106.5,336.9 L109.0,336.5 L111.9,336.1 L115.2,335.6 L118.6,335.1 L121.8,334.6 L124.5,334.3 L126.4,334.0" fill="none" stroke="#d7d7d7" stroke-width="1.3" stroke-opacity="0.44000000000000006" stroke-linecap="round" stroke-linejoin="round" filter="url(#b1)"/>
<path d="M126.0,336.0 L126.6,335.4 L127.4,334.6 L128.3,333.7 L129.3,332.7 L130.2,331.8 L131.0,331.0 L131.7,330.3 L132.3,329.7 L132.8,329.2 L133.3,328.7 L133.7,328.3 L134.0,328.0" fill="none" stroke="#d7d7d7" stroke-width="2.08" stroke-opacity="0.68" stroke-linecap="round" stroke-linejoin="round" filter="url(#b1)"/>
<path d="M52.0,298.0 L52.4,297.4 L53.1,296.7 L53.8,295.8 L54.6,294.8 L55.3,293.8 L56.0,293.0 L56.6,292.2 L57.2,291.4 L57.8,290.7 L58.3,290.0 L58.7,289.4 L59.0,289.0" fill="none" stroke="#d7d7d7" stroke-width="1.8199999999999998" stroke-opacity="0.6000000000000001" stroke-linecap="round" stroke-linejoin="round" filter="url(#b1)"/>
<path d="M176.0,328.7 L177.3,329.2 L179.2,329.8 L181.4,330.5 L183.7,331.4 L186.0,332.2 L188.0,333.0 L189.8,333.8 L191.6,334.6 L193.3,335.5 L194.9,336.3 L196.5,337.2 L198.0,338.0 L199.5,338.8 L201.0,339.7 L202.4,340.6 L203.6,341.4 L204.7,342.0 L205.5,342.5" fill="none" stroke="#d7d7d7" stroke-width="1.6900000000000002" stroke-opacity="0.6000000000000001" stroke-linecap="round" stroke-linejoin="round" filter="url(#b1)"/>
<path d="M177.9,258.2 L178.1,258.8 L178.4,259.6 L178.8,260.5 L179.2,261.6 L179.6,262.7 L180.0,264.0 L180.5,265.5 L181.0,267.3 L181.6,269.2 L182.2,271.0 L182.7,272.6 L183.0,273.7" fill="none" stroke="#d7d7d7" stroke-width="1.3" stroke-opacity="0.48" stroke-linecap="round" stroke-linejoin="round" filter="url(#b1)"/>
<path d="M184.8,275.5 L185.9,275.1 L187.3,274.5 L189.0,273.9 L190.9,273.2 L193.0,272.5 L195.0,272.0 L197.1,271.6 L199.4,271.2 L201.8,270.9 L204.2,270.6 L206.6,270.4 L209.0,270.3 L211.5,270.3 L214.1,270.4 L216.8,270.5 L219.2,270.7 L221.3,270.9 L222.8,271.0" fill="none" stroke="#d7d7d7" stroke-width="1.56" stroke-opacity="0.6000000000000001" stroke-linecap="round" stroke-linejoin="round" filter="url(#b1)"/>
<path d="M205.5,289.3 L206.0,288.7 L206.7,287.9 L207.5,287.0 L208.4,285.9 L209.2,284.9 L210.0,284.0 L210.8,283.1 L211.6,282.1 L212.4,281.1 L213.1,280.2 L213.7,279.5 L214.2,278.9" fill="none" stroke="#d7d7d7" stroke-width="1.4300000000000002" stroke-opacity="0.5599999999999999" stroke-linecap="round" stroke-linejoin="round" filter="url(#b1)"/>
<path d="M214.2,299.6 L214.8,299.4 L215.8,299.1 L216.8,298.8 L217.9,298.5 L219.0,298.2 L220.0,298.0 L220.9,297.9 L221.8,297.9 L222.6,297.9 L223.4,297.9 L224.0,297.9 L224.5,297.9" fill="none" stroke="#d7d7d7" stroke-width="1.4300000000000002" stroke-opacity="0.48" stroke-linecap="round" stroke-linejoin="round" filter="url(#b1)"/>
<path d="M57.0,313.0 L59.0,312.6 L61.7,312.0 L64.9,311.4 L68.4,310.7 L71.8,310.2 L75.0,310.0 L78.1,310.1 L81.4,310.4 L84.6,310.8 L87.6,311.3 L90.2,311.7 L92.0,312.0" fill="none" stroke="#d7d7d7" stroke-width="1.1700000000000002" stroke-opacity="0.32000000000000006" stroke-linecap="round" stroke-linejoin="round" filter="url(#b1)"/>
<path d="M140.0,322.0 L142.3,322.7 L145.5,323.6 L149.2,324.8 L153.2,325.9 L156.9,327.0 L160.0,328.0 L162.6,328.8 L165.0,329.6 L167.2,330.4 L169.2,331.0 L170.8,331.6 L172.0,332.0" fill="none" stroke="#d7d7d7" stroke-width="1.1700000000000002" stroke-opacity="0.32000000000000006" stroke-linecap="round" stroke-linejoin="round" filter="url(#b1)"/>
<path d="M215.0,315.0 L215.6,316.0 L216.4,317.4 L217.4,319.1 L218.4,320.9 L219.3,322.9 L220.0,325.0 L220.5,327.4 L221.0,330.2 L221.3,333.1 L221.6,335.9 L221.8,338.3 L222.0,340.0" fill="none" stroke="#d7d7d7" stroke-width="1.3" stroke-opacity="0.4" stroke-linecap="round" stroke-linejoin="round" filter="url(#b1)"/>
<path d="M220.0,345.0 L220.5,346.1 L221.1,347.6 L221.9,349.3 L222.7,351.2 L223.5,353.2 L224.0,355.0 L224.4,356.9 L224.6,359.0 L224.8,361.1 L224.9,363.1 L224.9,364.8 L225.0,366.0" fill="none" stroke="#d7d7d7" stroke-width="1.3" stroke-opacity="0.4" stroke-linecap="round" stroke-linejoin="round" filter="url(#b1)"/>
<path d="M45.0,308.0 L47.7,307.5 L51.5,306.7 L55.9,305.9 L60.7,305.0 L65.5,304.4 L70.0,304.0 L74.5,304.0 L79.3,304.3 L84.1,304.8 L88.5,305.3 L92.3,305.7 L95.0,306.0" fill="none" stroke="#323232" stroke-width="1.4" stroke-opacity="0.5" stroke-linecap="round" stroke-linejoin="round" filter="url(#b1)"/>
<path d="M150.0,332.0 L152.2,332.6 L155.2,333.5 L158.8,334.5 L162.6,335.6 L166.4,336.8 L170.0,338.0 L173.6,339.3 L177.4,340.8 L181.2,342.4 L184.8,343.9 L187.8,345.1 L190.0,346.0" fill="none" stroke="#323232" stroke-width="1.4" stroke-opacity="0.5" stroke-linecap="round" stroke-linejoin="round" filter="url(#b1)"/>
</g></g>
<g clip-path="url(#clipS2)"><g filter="url(#texB)">
<rect x="42.4" y="374.0" width="184.2" height="110.6" fill="#5e5e5e"/>
<path d="M38.0,370.0 L62.0,370.0 L60.0,420.0 L38.0,425.0Z" fill="#565656" fill-opacity="0.9" filter="url(#b6)"/>
<path d="M58.0,395.0 L72.0,380.0 L95.0,372.0 L135.0,372.0 L150.0,388.0 L158.0,405.0 L150.0,422.0 L125.0,428.0 L95.0,428.0 L70.0,424.0 L60.0,410.0Z" fill="#707070" fill-opacity="1" filter="url(#b3)"/>
<path d="M152.0,370.0 L232.0,370.0 L232.0,420.0 L205.0,417.0 L182.0,412.0 L165.0,404.0 L154.0,390.0Z" fill="#404040" fill-opacity="1" filter="url(#b3)"/>
<path d="M188.0,381.0 L232.0,378.0 L232.0,394.0 L200.0,394.0Z" fill="#222222" fill-opacity="0.9" filter="url(#b1)"/>
<path d="M166.0,386.0 L196.0,388.0 L194.0,393.0 L168.0,392.0Z" fill="#343434" fill-opacity="0.7" filter="url(#b1)"/>
<path d="M186.0,399.0 L232.0,397.0 L232.0,405.0 L192.0,405.0Z" fill="#373737" fill-opacity="0.7" filter="url(#b1)"/>
<path d="M160.0,374.0 L190.0,374.0 L185.0,380.0 L165.0,380.0Z" fill="#3c3c3c" fill-opacity="0.6" filter="url(#b1)"/>
<path d="M38.0,440.0 L232.0,432.0 L232.0,490.0 L38.0,490.0Z" fill="#5a5a5a" fill-opacity="0.6" filter="url(#b6)"/>
<path d="M38.0,436.0 L110.0,440.0 L120.0,490.0 L38.0,490.0Z" fill="#525252" fill-opacity="0.55" filter="url(#b6)"/>
<path d="M54.0,442.0 L70.0,444.0 L72.0,456.0 L55.0,457.0Z" fill="#3e3e3e" fill-opacity="0.8" filter="url(#b3)"/>
<g mask="url(#mLight)"><g transform="rotate(38 105 400)"><rect x="30" y="330" width="150" height="140" filter="url(#ridgeA)" opacity="0.5"/></g></g>
<g mask="url(#mLow)"><g transform="rotate(-20 135 455)"><rect x="20" y="400" width="240" height="110" filter="url(#ridgeB)" opacity="0.4"/></g></g>
<g mask="url(#mDark)"><g transform="rotate(-5 190 395)"><rect x="140" y="360" width="100" height="70" filter="url(#ridgeA)" opacity="0.22"/></g></g>
<path d="M179.6,394.5 L180.5,394.2 L181.8,393.7 L183.3,393.2 L184.9,392.7 L186.5,392.2 L188.0,392.0 L189.3,392.0 L190.7,392.2 L192.0,392.5 L193.3,392.8 L194.6,393.0 L196.0,393.0 L197.4,392.7 L198.9,392.2 L200.3,391.6 L201.8,391.0 L203.4,390.4 L205.0,390.0 L206.8,389.7 L208.9,389.5 L211.1,389.3 L213.1,389.2 L214.8,389.1 L216.0,389.0" fill="none" stroke="#d7d7d7" stroke-width="1.2" stroke-opacity="0.6" stroke-linecap="round" stroke-linejoin="round" filter="url(#b05)"/>
<path d="M159.0,409.0 L160.2,408.6 L161.9,408.1 L163.9,407.4 L166.0,406.8 L168.1,406.3 L170.0,406.0 L171.7,406.0 L173.3,406.2 L174.9,406.5 L176.6,406.8 L178.2,407.0 L180.0,407.0 L181.9,406.7 L183.9,406.2 L186.0,405.6 L188.1,405.0 L190.1,404.4 L192.0,404.0 L193.8,403.7 L195.4,403.6 L197.0,403.4 L198.6,403.3 L200.2,403.2 L202.0,403.0 L203.9,402.7 L205.9,402.4 L207.9,402.1 L209.9,401.8 L212.0,401.4 L214.0,401.0 L216.1,400.5 L218.4,400.0 L220.8,399.4 L222.9,398.8 L224.7,398.3 L226.0,398.0" fill="none" stroke="#d7d7d7" stroke-width="1.2" stroke-opacity="0.5" stroke-linecap="round" stroke-linejoin="round" filter="url(#b05)"/>
<path d="M150.0,400.0 L151.6,399.6 L153.7,399.1 L156.2,398.4 L159.1,397.8 L162.0,397.3 L165.0,397.0 L168.3,396.9 L172.0,397.1 L175.9,397.3 L179.6,397.6 L182.8,397.8 L185.0,398.0" fill="none" stroke="#d7d7d7" stroke-width="1.1" stroke-opacity="0.6" stroke-linecap="round" stroke-linejoin="round" filter="url(#b05)"/>
<path d="M42.0,420.0 L43.9,419.7 L46.6,419.2 L49.8,418.6 L53.2,418.1 L56.7,417.9 L60.0,418.0 L63.4,418.6 L67.3,419.6 L71.1,420.9 L74.7,422.1 L77.8,423.3 L80.0,424.0" fill="none" stroke="#d7d7d7" stroke-width="1.0" stroke-opacity="0.45" stroke-linecap="round" stroke-linejoin="round" filter="url(#b05)"/>
<path d="M128.0,428.0 L130.4,427.6 L133.6,426.9 L137.4,426.2 L141.6,425.4 L145.9,424.7 L150.0,424.0 L154.3,423.4 L159.0,422.8 L163.9,422.2 L168.4,421.7 L172.2,421.3 L175.0,421.0" fill="none" stroke="#d7d7d7" stroke-width="1.0" stroke-opacity="0.45" stroke-linecap="round" stroke-linejoin="round" filter="url(#b05)"/>
<path d="M135.0,374.0 L135.4,374.8 L136.0,375.9 L136.7,377.2 L137.4,378.6 L138.2,379.9 L139.0,381.0 L139.8,381.9 L140.6,382.7 L141.4,383.4 L142.3,384.1 L143.2,385.0 L144.0,386.0 L144.9,387.3 L145.7,388.8 L146.6,390.4 L147.5,392.0 L148.3,393.6 L149.0,395.0 L149.6,396.3 L150.1,397.4 L150.5,398.6 L150.9,399.7 L151.4,400.8 L152.0,402.0 L152.7,403.3 L153.5,404.5 L154.4,405.8 L155.3,407.1 L156.1,408.5 L157.0,410.0 L157.9,411.7 L158.9,413.6 L159.8,415.5 L160.7,417.3 L161.5,418.9 L162.0,420.0" fill="none" stroke="#d7d7d7" stroke-width="1.2" stroke-opacity="0.45" stroke-linecap="round" stroke-linejoin="round" filter="url(#b05)"/>
<path d="M98.0,374.0 L98.7,374.8 L99.6,376.0 L100.6,377.4 L101.8,378.9 L102.9,380.5 L104.0,382.0 L105.1,383.7 L106.2,385.6 L107.4,387.5 L108.4,389.3 L109.3,390.9 L110.0,392.0" fill="none" stroke="#d7d7d7" stroke-width="1.2" stroke-opacity="0.5" stroke-linecap="round" stroke-linejoin="round" filter="url(#b05)"/>
<path d="M200.0,388.0 L201.7,387.8 L204.0,387.4 L206.8,387.1 L209.7,386.7 L212.6,386.3 L215.0,386.0 L217.2,385.8 L219.4,385.6 L221.4,385.4 L223.3,385.2 L224.8,385.1 L226.0,385.0" fill="none" stroke="#1e1e1e" stroke-width="1.5" stroke-opacity="0.6" stroke-linecap="round" stroke-linejoin="round" filter="url(#b1)"/>
<path d="M162.0,380.0 L164.0,380.7 L166.7,381.6 L169.9,382.8 L173.3,383.9 L176.8,385.0 L180.0,386.0 L183.2,386.8 L186.7,387.6 L190.1,388.4 L193.3,389.0 L196.0,389.6 L198.0,390.0" fill="none" stroke="#1e1e1e" stroke-width="1.5" stroke-opacity="0.6" stroke-linecap="round" stroke-linejoin="round" filter="url(#b1)"/>
<path d="M46.0,470.0 L47.7,469.0 L50.1,467.6 L53.0,466.0 L55.9,464.4 L58.3,463.0 L60.0,462.0" fill="none" stroke="#1e1e1e" stroke-width="1.5" stroke-opacity="0.6" stroke-linecap="round" stroke-linejoin="round" filter="url(#b1)"/>
<path d="M44.0,380.0 L44.7,379.3 L45.8,378.2 L47.0,377.0 L48.2,375.8 L49.3,374.7 L50.0,374.0" fill="none" stroke="#1e1e1e" stroke-width="1.5" stroke-opacity="0.6" stroke-linecap="round" stroke-linejoin="round" filter="url(#b1)"/>
</g></g>
<text x="45.6" y="351.7" font-size="10.8" font-weight="bold" fill="#ffffff" font-family="'Liberation Serif',serif" text-anchor="start" textLength="26.2" lengthAdjust="spacingAndGlyphs" stroke="#fff" stroke-width="0.25">2 μm</text>
<rect x="50" y="355.3" width="16.6" height="3.4" fill="#fff"/>
<text x="172.6" y="358.1" font-size="14" font-weight="bold" fill="#ffffff" font-family="'Liberation Serif',serif" text-anchor="start" textLength="45.6" lengthAdjust="spacingAndGlyphs" stroke="#fff" stroke-width="0.25">Before</text>
<text x="45.8" y="470.3" font-size="10.8" font-weight="bold" fill="#ffffff" font-family="'Liberation Serif',serif" text-anchor="start" textLength="26.2" lengthAdjust="spacingAndGlyphs" stroke="#fff" stroke-width="0.25">2 μm</text>
<rect x="50" y="474.1" width="16.8" height="3.6" fill="#fff"/>
<text x="176.8" y="476.6" font-size="14" font-weight="bold" fill="#ffffff" font-family="'Liberation Serif',serif" text-anchor="start" textLength="37.0" lengthAdjust="spacingAndGlyphs" stroke="#fff" stroke-width="0.25">After</text>
</svg>
</body></html>
